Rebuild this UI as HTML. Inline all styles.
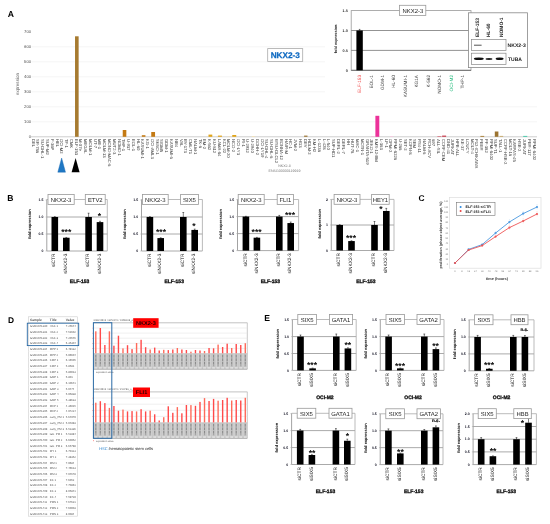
<!DOCTYPE html>
<html><head><meta charset="utf-8"><title>Figure</title>
<style>html,body{margin:0;padding:0;background:#fff;} svg{display:block;} text{font-family:"Liberation Sans", Arial, sans-serif;text-rendering:geometricPrecision;}</style>
</head><body>
<svg width="550" height="524" viewBox="0 0 550 524" font-family='"Liberation Sans", Arial, sans-serif'>
<rect width="550" height="524" fill="#fff"/>
<text x="7.80" y="16.60" font-size="8.6" font-weight="bold" fill="#000">A</text>
<line x1="31.50" y1="121.80" x2="537.00" y2="121.80" stroke="#f2f2f2" stroke-width="0.8"/>
<line x1="31.50" y1="106.80" x2="537.00" y2="106.80" stroke="#f2f2f2" stroke-width="0.8"/>
<line x1="31.50" y1="91.80" x2="325.00" y2="91.80" stroke="#f2f2f2" stroke-width="0.8"/>
<line x1="31.50" y1="76.80" x2="325.00" y2="76.80" stroke="#f2f2f2" stroke-width="0.8"/>
<line x1="31.50" y1="61.80" x2="325.00" y2="61.80" stroke="#f2f2f2" stroke-width="0.8"/>
<line x1="31.50" y1="46.80" x2="325.00" y2="46.80" stroke="#f2f2f2" stroke-width="0.8"/>
<text x="31.20" y="138.30" font-size="4.3" text-anchor="end" fill="#555">0</text>
<text x="31.20" y="123.30" font-size="4.3" text-anchor="end" fill="#555">100</text>
<text x="31.20" y="108.30" font-size="4.3" text-anchor="end" fill="#555">200</text>
<text x="31.20" y="93.30" font-size="4.3" text-anchor="end" fill="#555">300</text>
<text x="31.20" y="78.30" font-size="4.3" text-anchor="end" fill="#555">400</text>
<text x="31.20" y="63.30" font-size="4.3" text-anchor="end" fill="#555">500</text>
<text x="31.20" y="48.30" font-size="4.3" text-anchor="end" fill="#555">600</text>
<text x="31.20" y="33.30" font-size="4.3" text-anchor="end" fill="#555">700</text>
<text x="18.90" y="84.00" font-size="4.6" text-anchor="middle" fill="#555" transform="rotate(-90 18.90 84.00)">expression</text>
<line x1="30.50" y1="136.80" x2="537.00" y2="136.80" stroke="#c8c8c8" stroke-width="0.9"/>
<text x="31.70" y="139.00" font-size="4.2" fill="#444" transform="rotate(90 31.70 139.00)">DEL</text>
<text x="36.47" y="139.00" font-size="4.2" fill="#444" transform="rotate(90 36.47 139.00)">SR-786</text>
<text x="41.24" y="139.00" font-size="4.2" fill="#444" transform="rotate(90 41.24 139.00)">SU-DHL-1</text>
<text x="46.01" y="139.00" font-size="4.2" fill="#444" transform="rotate(90 46.01 139.00)">SUP-M2</text>
<text x="50.78" y="139.00" font-size="4.2" fill="#444" transform="rotate(90 50.78 139.00)">F-36P</text>
<text x="55.55" y="139.00" font-size="4.2" fill="#444" transform="rotate(90 55.55 139.00)">HEL</text>
<text x="60.32" y="139.00" font-size="4.2" fill="#444" transform="rotate(90 60.32 139.00)">OCI-M2</text>
<text x="65.09" y="139.00" font-size="4.2" fill="#444" transform="rotate(90 65.09 139.00)">TF-1</text>
<text x="69.86" y="139.00" font-size="4.2" fill="#444" transform="rotate(90 69.86 139.00)">CMK</text>
<text x="74.63" y="139.00" font-size="4.2" fill="#444" transform="rotate(90 74.63 139.00)">ELF-153</text>
<text x="79.40" y="139.00" font-size="4.2" fill="#444" transform="rotate(90 79.40 139.00)">M-07e</text>
<text x="84.17" y="139.00" font-size="4.2" fill="#444" transform="rotate(90 84.17 139.00)">MEGAL</text>
<text x="88.94" y="139.00" font-size="4.2" fill="#444" transform="rotate(90 88.94 139.00)">MOLM-1</text>
<text x="93.71" y="139.00" font-size="4.2" fill="#444" transform="rotate(90 93.71 139.00)">UT-7</text>
<text x="98.48" y="139.00" font-size="4.2" fill="#444" transform="rotate(90 98.48 139.00)">ME-1</text>
<text x="103.25" y="139.00" font-size="4.2" fill="#444" transform="rotate(90 103.25 139.00)">MOLM-13</text>
<text x="108.02" y="139.00" font-size="4.2" fill="#444" transform="rotate(90 108.02 139.00)">MONO-MAC-6</text>
<text x="112.79" y="139.00" font-size="4.2" fill="#444" transform="rotate(90 112.79 139.00)">MUTZ-3</text>
<text x="117.56" y="139.00" font-size="4.2" fill="#444" transform="rotate(90 117.56 139.00)">NOMO-1</text>
<text x="122.33" y="139.00" font-size="4.2" fill="#444" transform="rotate(90 122.33 139.00)">THP-1</text>
<text x="127.10" y="139.00" font-size="4.2" fill="#444" transform="rotate(90 127.10 139.00)">U-937</text>
<text x="131.87" y="139.00" font-size="4.2" fill="#444" transform="rotate(90 131.87 139.00)">EOL-1</text>
<text x="136.64" y="139.00" font-size="4.2" fill="#444" transform="rotate(90 136.64 139.00)">HL-60</text>
<text x="141.41" y="139.00" font-size="4.2" fill="#444" transform="rotate(90 141.41 139.00)">KASUMI-1</text>
<text x="146.18" y="139.00" font-size="4.2" fill="#444" transform="rotate(90 146.18 139.00)">KG-1</text>
<text x="150.95" y="139.00" font-size="4.2" fill="#444" transform="rotate(90 150.95 139.00)">OCI-AML3</text>
<text x="155.72" y="139.00" font-size="4.2" fill="#444" transform="rotate(90 155.72 139.00)">SKNO-1</text>
<text x="160.49" y="139.00" font-size="4.2" fill="#444" transform="rotate(90 160.49 139.00)">SIGM5</text>
<text x="165.26" y="139.00" font-size="4.2" fill="#444" transform="rotate(90 165.26 139.00)">GDM-1</text>
<text x="170.03" y="139.00" font-size="4.2" fill="#444" transform="rotate(90 170.03 139.00)">KASUMI-6</text>
<text x="174.80" y="139.00" font-size="4.2" fill="#444" transform="rotate(90 174.80 139.00)">NB4</text>
<text x="179.57" y="139.00" font-size="4.2" fill="#444" transform="rotate(90 179.57 139.00)">VAL</text>
<text x="184.34" y="139.00" font-size="4.2" fill="#444" transform="rotate(90 184.34 139.00)">BV-173</text>
<text x="189.11" y="139.00" font-size="4.2" fill="#444" transform="rotate(90 189.11 139.00)">CML-T1</text>
<text x="193.88" y="139.00" font-size="4.2" fill="#444" transform="rotate(90 193.88 139.00)">NALM-1</text>
<text x="198.65" y="139.00" font-size="4.2" fill="#444" transform="rotate(90 198.65 139.00)">TK-6</text>
<text x="203.42" y="139.00" font-size="4.2" fill="#444" transform="rotate(90 203.42 139.00)">EM-2</text>
<text x="208.19" y="139.00" font-size="4.2" fill="#444" transform="rotate(90 208.19 139.00)">K-562</text>
<text x="212.96" y="139.00" font-size="4.2" fill="#444" transform="rotate(90 212.96 139.00)">KU-812</text>
<text x="217.73" y="139.00" font-size="4.2" fill="#444" transform="rotate(90 217.73 139.00)">LAMA-84</text>
<text x="222.50" y="139.00" font-size="4.2" fill="#444" transform="rotate(90 222.50 139.00)">KCL-22</text>
<text x="227.27" y="139.00" font-size="4.2" fill="#444" transform="rotate(90 227.27 139.00)">MOLM-20</text>
<text x="232.04" y="139.00" font-size="4.2" fill="#444" transform="rotate(90 232.04 139.00)">NCO-2</text>
<text x="236.81" y="139.00" font-size="4.2" fill="#444" transform="rotate(90 236.81 139.00)">OCI-LY3</text>
<text x="241.58" y="139.00" font-size="4.2" fill="#444" transform="rotate(90 241.58 139.00)">RI-1</text>
<text x="246.35" y="139.00" font-size="4.2" fill="#444" transform="rotate(90 246.35 139.00)">U-2932</text>
<text x="251.12" y="139.00" font-size="4.2" fill="#444" transform="rotate(90 251.12 139.00)">U-2940</text>
<text x="255.89" y="139.00" font-size="4.2" fill="#444" transform="rotate(90 255.89 139.00)">DOHH-2</text>
<text x="260.66" y="139.00" font-size="4.2" fill="#444" transform="rotate(90 260.66 139.00)">OCI-LY19</text>
<text x="265.43" y="139.00" font-size="4.2" fill="#444" transform="rotate(90 265.43 139.00)">SU-DHL-4</text>
<text x="270.20" y="139.00" font-size="4.2" fill="#444" transform="rotate(90 270.20 139.00)">SU-DHL-6</text>
<text x="274.97" y="139.00" font-size="4.2" fill="#444" transform="rotate(90 274.97 139.00)">WSU-DLCL2</text>
<text x="279.74" y="139.00" font-size="4.2" fill="#444" transform="rotate(90 279.74 139.00)">BONNA-12</text>
<text x="284.51" y="139.00" font-size="4.2" fill="#444" transform="rotate(90 284.51 139.00)">HAIR-M</text>
<text x="289.28" y="139.00" font-size="4.2" fill="#444" transform="rotate(90 289.28 139.00)">HC-1</text>
<text x="294.05" y="139.00" font-size="4.2" fill="#444" transform="rotate(90 294.05 139.00)">JVM-2</text>
<text x="298.82" y="139.00" font-size="4.2" fill="#444" transform="rotate(90 298.82 139.00)">HG3</text>
<text x="303.59" y="139.00" font-size="4.2" fill="#444" transform="rotate(90 303.59 139.00)">DEV</text>
<text x="308.36" y="139.00" font-size="4.2" fill="#444" transform="rotate(90 308.36 139.00)">HDLM-2</text>
<text x="313.13" y="139.00" font-size="4.2" fill="#444" transform="rotate(90 313.13 139.00)">KM-H2</text>
<text x="317.90" y="139.00" font-size="4.2" fill="#444" transform="rotate(90 317.90 139.00)">L-1236</text>
<text x="322.67" y="139.00" font-size="4.2" fill="#444" transform="rotate(90 322.67 139.00)">L-428</text>
<text x="327.44" y="139.00" font-size="4.2" fill="#444" transform="rotate(90 327.44 139.00)">L-540</text>
<text x="332.21" y="139.00" font-size="4.2" fill="#444" transform="rotate(90 332.21 139.00)">SUP-HD1</text>
<text x="336.98" y="139.00" font-size="4.2" fill="#444" transform="rotate(90 336.98 139.00)">DERL-2</text>
<text x="341.75" y="139.00" font-size="4.2" fill="#444" transform="rotate(90 341.75 139.00)">DERL-7</text>
<text x="346.52" y="139.00" font-size="4.2" fill="#444" transform="rotate(90 346.52 139.00)">HH</text>
<text x="351.29" y="139.00" font-size="4.2" fill="#444" transform="rotate(90 351.29 139.00)">HUT-78</text>
<text x="356.06" y="139.00" font-size="4.2" fill="#444" transform="rotate(90 356.06 139.00)">MAC-1</text>
<text x="360.83" y="139.00" font-size="4.2" fill="#444" transform="rotate(90 360.83 139.00)">MOTN-1</text>
<text x="365.60" y="139.00" font-size="4.2" fill="#444" transform="rotate(90 365.60 139.00)">GRANTA-519</text>
<text x="370.37" y="139.00" font-size="4.2" fill="#444" transform="rotate(90 370.37 139.00)">JEKO-1</text>
<text x="375.14" y="139.00" font-size="4.2" fill="#444" transform="rotate(90 375.14 139.00)">KMS-12-BM</text>
<text x="379.91" y="139.00" font-size="4.2" fill="#444" transform="rotate(90 379.91 139.00)">L-363</text>
<text x="384.68" y="139.00" font-size="4.2" fill="#444" transform="rotate(90 384.68 139.00)">LP-1</text>
<text x="389.45" y="139.00" font-size="4.2" fill="#444" transform="rotate(90 389.45 139.00)">OPM-2</text>
<text x="394.22" y="139.00" font-size="4.2" fill="#444" transform="rotate(90 394.22 139.00)">RPMI-8226</text>
<text x="398.99" y="139.00" font-size="4.2" fill="#444" transform="rotate(90 398.99 139.00)">U-266</text>
<text x="403.76" y="139.00" font-size="4.2" fill="#444" transform="rotate(90 403.76 139.00)">SET-2</text>
<text x="408.53" y="139.00" font-size="4.2" fill="#444" transform="rotate(90 408.53 139.00)">KOPN-8</text>
<text x="413.30" y="139.00" font-size="4.2" fill="#444" transform="rotate(90 413.30 139.00)">SEM</text>
<text x="418.07" y="139.00" font-size="4.2" fill="#444" transform="rotate(90 418.07 139.00)">RS4-11</text>
<text x="422.84" y="139.00" font-size="4.2" fill="#444" transform="rotate(90 422.84 139.00)">NALM-6</text>
<text x="427.61" y="139.00" font-size="4.2" fill="#444" transform="rotate(90 427.61 139.00)">RCH-ACV</text>
<text x="432.38" y="139.00" font-size="4.2" fill="#444" transform="rotate(90 432.38 139.00)">697</text>
<text x="437.15" y="139.00" font-size="4.2" fill="#444" transform="rotate(90 437.15 139.00)">ALL-SIL</text>
<text x="441.92" y="139.00" font-size="4.2" fill="#444" transform="rotate(90 441.92 139.00)">CCRF-CEM</text>
<text x="446.69" y="139.00" font-size="4.2" fill="#444" transform="rotate(90 446.69 139.00)">DND-41</text>
<text x="451.46" y="139.00" font-size="4.2" fill="#444" transform="rotate(90 451.46 139.00)">JURKAT</text>
<text x="456.23" y="139.00" font-size="4.2" fill="#444" transform="rotate(90 456.23 139.00)">HPB-ALL</text>
<text x="461.00" y="139.00" font-size="4.2" fill="#444" transform="rotate(90 461.00 139.00)">KE-37</text>
<text x="465.77" y="139.00" font-size="4.2" fill="#444" transform="rotate(90 465.77 139.00)">LOUCY</text>
<text x="470.54" y="139.00" font-size="4.2" fill="#444" transform="rotate(90 470.54 139.00)">MOLT-4</text>
<text x="475.31" y="139.00" font-size="4.2" fill="#444" transform="rotate(90 475.31 139.00)">P12-ICHIKAWA</text>
<text x="480.08" y="139.00" font-size="4.2" fill="#444" transform="rotate(90 480.08 139.00)">PEER</text>
<text x="484.85" y="139.00" font-size="4.2" fill="#444" transform="rotate(90 484.85 139.00)">PF-382</text>
<text x="489.62" y="139.00" font-size="4.2" fill="#444" transform="rotate(90 489.62 139.00)">RPMI-8402</text>
<text x="494.39" y="139.00" font-size="4.2" fill="#444" transform="rotate(90 494.39 139.00)">SUP-T1</text>
<text x="499.16" y="139.00" font-size="4.2" fill="#444" transform="rotate(90 499.16 139.00)">TALL-1</text>
<text x="503.93" y="139.00" font-size="4.2" fill="#444" transform="rotate(90 503.93 139.00)">CCRF-HSB-2</text>
<text x="508.70" y="139.00" font-size="4.2" fill="#444" transform="rotate(90 508.70 139.00)">MOLT-16</text>
<text x="513.47" y="139.00" font-size="4.2" fill="#444" transform="rotate(90 513.47 139.00)">KARPAS-45</text>
<text x="518.24" y="139.00" font-size="4.2" fill="#444" transform="rotate(90 518.24 139.00)">HSB-2</text>
<text x="523.01" y="139.00" font-size="4.2" fill="#444" transform="rotate(90 523.01 139.00)">JURKAT</text>
<text x="527.78" y="139.00" font-size="4.2" fill="#444" transform="rotate(90 527.78 139.00)">PER-117</text>
<text x="532.55" y="139.00" font-size="4.2" fill="#444" transform="rotate(90 532.55 139.00)">RPMI-8402</text>
<rect x="75.03" y="36.30" width="3.60" height="100.50" fill="#a77b30"/>
<rect x="122.73" y="130.00" width="3.60" height="6.80" fill="#c47a14"/>
<rect x="141.81" y="135.20" width="3.60" height="1.60" fill="#c47a14"/>
<rect x="151.25" y="132.00" width="3.80" height="4.80" fill="#c47a14"/>
<rect x="208.49" y="134.60" width="3.80" height="2.20" fill="#e0a418"/>
<rect x="217.93" y="135.60" width="4.00" height="1.20" fill="#e0a418"/>
<rect x="227.77" y="136.20" width="3.40" height="0.60" fill="#f3ddb0"/>
<rect x="232.24" y="135.00" width="4.00" height="1.80" fill="#e0a418"/>
<rect x="251.82" y="136.00" width="3.00" height="0.80" fill="#f5e3b5"/>
<rect x="304.09" y="135.60" width="3.40" height="1.20" fill="#9b7330"/>
<rect x="371.07" y="136.00" width="3.00" height="0.80" fill="#f7b8d8"/>
<rect x="375.39" y="115.80" width="3.90" height="21.00" fill="#ec329a"/>
<rect x="390.15" y="136.00" width="3.00" height="0.80" fill="#f7c8e0"/>
<rect x="437.35" y="136.00" width="4.00" height="0.80" fill="#d87582"/>
<rect x="442.12" y="135.60" width="4.00" height="1.20" fill="#c8384a"/>
<rect x="480.38" y="135.90" width="3.80" height="0.90" fill="#a87c30"/>
<rect x="494.79" y="131.50" width="3.60" height="5.30" fill="#9b7330"/>
<rect x="499.56" y="135.90" width="3.60" height="0.90" fill="#c8a868"/>
<rect x="523.16" y="135.90" width="4.10" height="0.90" fill="#40c8a8"/>
<polygon points="57.8,172.2 65.5,172.2 61.65,158" fill="#1f78c4" stroke="#1565b0" stroke-width="0.4"/>
<polygon points="71.6,172.2 79.6,172.2 75.6,158" fill="#000"/>
<rect x="267.70" y="48.60" width="35.00" height="12.80" fill="#fff" stroke="#aaa" stroke-width="0.8"/>
<text x="285.20" y="58.00" font-size="8.2" text-anchor="middle" font-weight="bold" fill="#0f6ac2" stroke="#0f6ac2" stroke-width="0.25">NKX2-3</text>
<text x="284.50" y="167.30" font-size="3.6" text-anchor="middle" fill="#777">NKX2-3</text>
<text x="284.50" y="172.30" font-size="3.6" text-anchor="middle" fill="#777">ENSG00000119919</text>
<rect x="351.20" y="10.60" width="119.80" height="59.70" fill="#fff" stroke="#999" stroke-width="0.8"/>
<line x1="351.20" y1="30.50" x2="471.00" y2="30.50" stroke="#777" stroke-width="0.8"/>
<line x1="351.20" y1="50.40" x2="471.00" y2="50.40" stroke="#777" stroke-width="0.8"/>
<line x1="351.20" y1="70.30" x2="471.00" y2="70.30" stroke="#666" stroke-width="0.9"/>
<text x="347.80" y="11.90" font-size="3.8" text-anchor="end" font-weight="bold" fill="#333">1.5</text>
<text x="347.80" y="31.80" font-size="3.8" text-anchor="end" font-weight="bold" fill="#333">1.0</text>
<text x="347.80" y="51.70" font-size="3.8" text-anchor="end" font-weight="bold" fill="#333">0.5</text>
<text x="347.80" y="71.60" font-size="3.8" text-anchor="end" font-weight="bold" fill="#333">0</text>
<text x="336.80" y="38.90" font-size="3.9" text-anchor="middle" font-weight="bold" fill="#222" transform="rotate(-90 336.80 38.90)">fold expression</text>
<rect x="356.40" y="30.50" width="6.40" height="39.80" fill="#000"/>
<line x1="359.60" y1="30.50" x2="359.60" y2="29.40" stroke="#000" stroke-width="0.5"/>
<line x1="358.80" y1="29.40" x2="360.40" y2="29.40" stroke="#000" stroke-width="0.5"/>
<rect x="399.40" y="5.30" width="26.40" height="10.10" fill="#fff" stroke="#999" stroke-width="0.8"/>
<text x="412.90" y="12.70" font-size="5.9" text-anchor="middle" fill="#1a1a1a">NKX2-3</text>
<text x="361.30" y="75.00" font-size="4.7" text-anchor="end" fill="#ee3333" transform="rotate(-90 361.30 75.00)">ELF-153</text>
<text x="372.70" y="75.00" font-size="4.7" text-anchor="end" fill="#333" transform="rotate(-90 372.70 75.00)">EOL-1</text>
<text x="383.80" y="75.00" font-size="4.7" text-anchor="end" fill="#333" transform="rotate(-90 383.80 75.00)">GDM-1</text>
<text x="394.60" y="75.00" font-size="4.7" text-anchor="end" fill="#333" transform="rotate(-90 394.60 75.00)">HL-60</text>
<text x="406.70" y="75.00" font-size="4.7" text-anchor="end" fill="#333" transform="rotate(-90 406.70 75.00)">KASUMI-1</text>
<text x="418.30" y="75.00" font-size="4.7" text-anchor="end" fill="#333" transform="rotate(-90 418.30 75.00)">KG1A</text>
<text x="429.50" y="75.00" font-size="4.7" text-anchor="end" fill="#333" transform="rotate(-90 429.50 75.00)">K-562</text>
<text x="440.90" y="75.00" font-size="4.7" text-anchor="end" fill="#333" transform="rotate(-90 440.90 75.00)">NOMO-1</text>
<text x="452.60" y="75.00" font-size="4.7" text-anchor="end" fill="#1fb87a" transform="rotate(-90 452.60 75.00)">OCI-M2</text>
<text x="464.30" y="75.00" font-size="4.7" text-anchor="end" fill="#333" transform="rotate(-90 464.30 75.00)">THP-1</text>
<rect x="468.40" y="12.80" width="59.00" height="54.80" fill="#fff" stroke="#888" stroke-width="0.8"/>
<text x="478.60" y="37.00" font-size="4.9" font-weight="bold" fill="#222" transform="rotate(-90 478.60 37.00)">ELF-153</text>
<text x="490.20" y="37.00" font-size="4.9" font-weight="bold" fill="#222" transform="rotate(-90 490.20 37.00)">HL-60</text>
<text x="502.60" y="37.00" font-size="4.9" font-weight="bold" fill="#222" transform="rotate(-90 502.60 37.00)">NOMO-1</text>
<rect x="471.40" y="39.60" width="34.60" height="10.80" fill="#fff" stroke="#888" stroke-width="0.7"/>
<rect x="471.40" y="53.20" width="34.60" height="11.20" fill="#fff" stroke="#888" stroke-width="0.7"/>
<rect x="474.00" y="44.70" width="7.60" height="1.00" fill="#555"/>
<ellipse cx="478.8" cy="58.8" rx="5.0" ry="1.3" fill="#111"/>
<ellipse cx="489.0" cy="59.0" rx="3.4" ry="0.9" fill="#222"/>
<ellipse cx="499.6" cy="58.8" rx="4.0" ry="1.2" fill="#111"/>
<text x="507.60" y="46.80" font-size="5.1" font-weight="bold" fill="#222">NKX2-3</text>
<text x="508.00" y="60.80" font-size="5.0" font-weight="bold" fill="#222">TUBA</text>
<text x="7.30" y="200.80" font-size="8.6" font-weight="bold" fill="#000">B</text>
<line x1="46.80" y1="199.50" x2="107.30" y2="199.50" stroke="#aaa" stroke-width="0.8"/>
<line x1="107.30" y1="199.50" x2="107.30" y2="251.00" stroke="#aaa" stroke-width="0.8"/>
<line x1="46.80" y1="217.00" x2="107.30" y2="217.00" stroke="#aaa" stroke-width="1.0"/>
<line x1="46.80" y1="234.00" x2="107.30" y2="234.00" stroke="#aaa" stroke-width="1.0"/>
<line x1="46.80" y1="251.00" x2="107.30" y2="251.00" stroke="#aaa" stroke-width="1.0"/>
<line x1="46.80" y1="199.50" x2="46.80" y2="251.00" stroke="#999" stroke-width="0.9"/>
<text x="43.40" y="201.25" font-size="3.5" text-anchor="end" font-weight="bold" fill="#112">1.5</text>
<line x1="45.60" y1="200.00" x2="46.80" y2="200.00" stroke="#aaa" stroke-width="0.6"/>
<text x="43.40" y="218.25" font-size="3.5" text-anchor="end" font-weight="bold" fill="#112">1.0</text>
<line x1="45.60" y1="217.00" x2="46.80" y2="217.00" stroke="#aaa" stroke-width="0.6"/>
<text x="43.40" y="235.25" font-size="3.5" text-anchor="end" font-weight="bold" fill="#112">0.5</text>
<line x1="45.60" y1="234.00" x2="46.80" y2="234.00" stroke="#aaa" stroke-width="0.6"/>
<text x="43.40" y="252.25" font-size="3.5" text-anchor="end" font-weight="bold" fill="#112">0</text>
<line x1="45.60" y1="251.00" x2="46.80" y2="251.00" stroke="#aaa" stroke-width="0.6"/>
<text x="31.10" y="224.05" font-size="4.0" text-anchor="middle" font-weight="bold" fill="#000" transform="rotate(-90 31.10 224.05)">fold expression</text>
<rect x="51.50" y="217.00" width="6.60" height="34.00" fill="#000"/>
<line x1="54.80" y1="217.00" x2="54.80" y2="216.70" stroke="#000" stroke-width="0.5"/>
<line x1="53.90" y1="216.70" x2="55.70" y2="216.70" stroke="#000" stroke-width="0.5"/>
<rect x="63.00" y="237.74" width="6.60" height="13.26" fill="#000"/>
<line x1="66.30" y1="237.74" x2="66.30" y2="237.44" stroke="#000" stroke-width="0.5"/>
<line x1="65.40" y1="237.44" x2="67.20" y2="237.44" stroke="#000" stroke-width="0.5"/>
<rect x="85.30" y="217.00" width="6.60" height="34.00" fill="#000"/>
<line x1="88.60" y1="217.00" x2="88.60" y2="213.20" stroke="#000" stroke-width="0.5"/>
<line x1="87.70" y1="213.20" x2="89.50" y2="213.20" stroke="#000" stroke-width="0.5"/>
<rect x="96.70" y="222.10" width="6.60" height="28.90" fill="#000"/>
<line x1="100.00" y1="222.10" x2="100.00" y2="221.30" stroke="#000" stroke-width="0.5"/>
<line x1="99.10" y1="221.30" x2="100.90" y2="221.30" stroke="#000" stroke-width="0.5"/>
<rect x="48.00" y="194.50" width="26.20" height="9.90" fill="#fff" stroke="#999" stroke-width="0.8"/>
<text x="61.10" y="201.70" font-size="5.9" text-anchor="middle" fill="#222">NKX2-3</text>
<rect x="85.30" y="194.50" width="19.90" height="9.90" fill="#fff" stroke="#999" stroke-width="0.8"/>
<text x="95.25" y="201.70" font-size="5.9" text-anchor="middle" fill="#222">ETV2</text>
<text x="66.30" y="235.40" font-size="8.6" text-anchor="middle" font-weight="bold" fill="#111">***</text>
<text x="99.40" y="218.70" font-size="8.6" text-anchor="middle" font-weight="bold" fill="#111">*</text>
<text x="55.50" y="253.60" font-size="4.8" text-anchor="end" fill="#111" transform="rotate(-90 55.50 253.60)">siCTR</text>
<text x="67.00" y="253.60" font-size="4.8" text-anchor="end" fill="#111" transform="rotate(-90 67.00 253.60)">siNKX2-3</text>
<text x="89.30" y="253.60" font-size="4.8" text-anchor="end" fill="#111" transform="rotate(-90 89.30 253.60)">siCTR</text>
<text x="100.70" y="253.60" font-size="4.8" text-anchor="end" fill="#111" transform="rotate(-90 100.70 253.60)">siNKX2-3</text>
<text x="79.60" y="282.70" font-size="5.0" text-anchor="middle" font-weight="bold" fill="#111" stroke="#111" stroke-width="0.3">ELF-153</text>
<line x1="141.50" y1="199.50" x2="202.40" y2="199.50" stroke="#aaa" stroke-width="0.8"/>
<line x1="202.40" y1="199.50" x2="202.40" y2="251.00" stroke="#aaa" stroke-width="0.8"/>
<line x1="141.50" y1="217.00" x2="202.40" y2="217.00" stroke="#aaa" stroke-width="1.0"/>
<line x1="141.50" y1="234.00" x2="202.40" y2="234.00" stroke="#aaa" stroke-width="1.0"/>
<line x1="141.50" y1="251.00" x2="202.40" y2="251.00" stroke="#aaa" stroke-width="1.0"/>
<line x1="141.50" y1="199.50" x2="141.50" y2="251.00" stroke="#999" stroke-width="0.9"/>
<text x="138.10" y="201.25" font-size="3.5" text-anchor="end" font-weight="bold" fill="#112">1.5</text>
<line x1="140.30" y1="200.00" x2="141.50" y2="200.00" stroke="#aaa" stroke-width="0.6"/>
<text x="138.10" y="218.25" font-size="3.5" text-anchor="end" font-weight="bold" fill="#112">1.0</text>
<line x1="140.30" y1="217.00" x2="141.50" y2="217.00" stroke="#aaa" stroke-width="0.6"/>
<text x="138.10" y="235.25" font-size="3.5" text-anchor="end" font-weight="bold" fill="#112">0.5</text>
<line x1="140.30" y1="234.00" x2="141.50" y2="234.00" stroke="#aaa" stroke-width="0.6"/>
<text x="138.10" y="252.25" font-size="3.5" text-anchor="end" font-weight="bold" fill="#112">0</text>
<line x1="140.30" y1="251.00" x2="141.50" y2="251.00" stroke="#aaa" stroke-width="0.6"/>
<text x="125.80" y="224.05" font-size="4.0" text-anchor="middle" font-weight="bold" fill="#000" transform="rotate(-90 125.80 224.05)">fold expression</text>
<rect x="146.60" y="217.00" width="6.60" height="34.00" fill="#000"/>
<line x1="149.90" y1="217.00" x2="149.90" y2="216.70" stroke="#000" stroke-width="0.5"/>
<line x1="149.00" y1="216.70" x2="150.80" y2="216.70" stroke="#000" stroke-width="0.5"/>
<rect x="157.40" y="238.08" width="6.60" height="12.92" fill="#000"/>
<line x1="160.70" y1="238.08" x2="160.70" y2="237.78" stroke="#000" stroke-width="0.5"/>
<line x1="159.80" y1="237.78" x2="161.60" y2="237.78" stroke="#000" stroke-width="0.5"/>
<rect x="180.00" y="217.00" width="6.60" height="34.00" fill="#000"/>
<line x1="183.30" y1="217.00" x2="183.30" y2="212.50" stroke="#000" stroke-width="0.5"/>
<line x1="182.40" y1="212.50" x2="184.20" y2="212.50" stroke="#000" stroke-width="0.5"/>
<rect x="191.40" y="229.92" width="6.60" height="21.08" fill="#000"/>
<line x1="194.70" y1="229.92" x2="194.70" y2="229.12" stroke="#000" stroke-width="0.5"/>
<line x1="193.80" y1="229.12" x2="195.60" y2="229.12" stroke="#000" stroke-width="0.5"/>
<rect x="142.40" y="194.50" width="25.80" height="9.90" fill="#fff" stroke="#999" stroke-width="0.8"/>
<text x="155.30" y="201.70" font-size="5.9" text-anchor="middle" fill="#222">NKX2-3</text>
<rect x="180.60" y="194.50" width="17.80" height="9.90" fill="#fff" stroke="#999" stroke-width="0.8"/>
<text x="189.50" y="201.70" font-size="5.9" text-anchor="middle" fill="#222">SIX5</text>
<text x="161.00" y="234.90" font-size="8.6" text-anchor="middle" font-weight="bold" fill="#111">***</text>
<text x="194.00" y="229.30" font-size="8.6" text-anchor="middle" font-weight="bold" fill="#111">*</text>
<text x="150.60" y="253.60" font-size="4.8" text-anchor="end" fill="#111" transform="rotate(-90 150.60 253.60)">siCTR</text>
<text x="161.40" y="253.60" font-size="4.8" text-anchor="end" fill="#111" transform="rotate(-90 161.40 253.60)">siNKX2-3</text>
<text x="184.00" y="253.60" font-size="4.8" text-anchor="end" fill="#111" transform="rotate(-90 184.00 253.60)">siCTR</text>
<text x="195.40" y="253.60" font-size="4.8" text-anchor="end" fill="#111" transform="rotate(-90 195.40 253.60)">siNKX2-3</text>
<text x="174.20" y="282.70" font-size="5.0" text-anchor="middle" font-weight="bold" fill="#111" stroke="#111" stroke-width="0.3">ELF-153</text>
<line x1="237.50" y1="199.50" x2="298.60" y2="199.50" stroke="#aaa" stroke-width="0.8"/>
<line x1="298.60" y1="199.50" x2="298.60" y2="250.60" stroke="#aaa" stroke-width="0.8"/>
<line x1="237.50" y1="216.60" x2="298.60" y2="216.60" stroke="#aaa" stroke-width="1.0"/>
<line x1="237.50" y1="233.60" x2="298.60" y2="233.60" stroke="#aaa" stroke-width="1.0"/>
<line x1="237.50" y1="250.60" x2="298.60" y2="250.60" stroke="#aaa" stroke-width="1.0"/>
<line x1="237.50" y1="199.50" x2="237.50" y2="250.60" stroke="#999" stroke-width="0.9"/>
<text x="234.10" y="200.85" font-size="3.5" text-anchor="end" font-weight="bold" fill="#112">1.5</text>
<line x1="236.30" y1="199.60" x2="237.50" y2="199.60" stroke="#aaa" stroke-width="0.6"/>
<text x="234.10" y="217.85" font-size="3.5" text-anchor="end" font-weight="bold" fill="#112">1.0</text>
<line x1="236.30" y1="216.60" x2="237.50" y2="216.60" stroke="#aaa" stroke-width="0.6"/>
<text x="234.10" y="234.85" font-size="3.5" text-anchor="end" font-weight="bold" fill="#112">0.5</text>
<line x1="236.30" y1="233.60" x2="237.50" y2="233.60" stroke="#aaa" stroke-width="0.6"/>
<text x="234.10" y="251.85" font-size="3.5" text-anchor="end" font-weight="bold" fill="#112">0</text>
<line x1="236.30" y1="250.60" x2="237.50" y2="250.60" stroke="#aaa" stroke-width="0.6"/>
<text x="221.80" y="223.85" font-size="4.0" text-anchor="middle" font-weight="bold" fill="#000" transform="rotate(-90 221.80 223.85)">fold expression</text>
<rect x="242.60" y="216.60" width="6.60" height="34.00" fill="#000"/>
<line x1="245.90" y1="216.60" x2="245.90" y2="216.30" stroke="#000" stroke-width="0.5"/>
<line x1="245.00" y1="216.30" x2="246.80" y2="216.30" stroke="#000" stroke-width="0.5"/>
<rect x="253.60" y="237.68" width="6.60" height="12.92" fill="#000"/>
<line x1="256.90" y1="237.68" x2="256.90" y2="237.38" stroke="#000" stroke-width="0.5"/>
<line x1="256.00" y1="237.38" x2="257.80" y2="237.38" stroke="#000" stroke-width="0.5"/>
<rect x="276.00" y="216.60" width="6.60" height="34.00" fill="#000"/>
<line x1="279.30" y1="216.60" x2="279.30" y2="215.40" stroke="#000" stroke-width="0.5"/>
<line x1="278.40" y1="215.40" x2="280.20" y2="215.40" stroke="#000" stroke-width="0.5"/>
<rect x="287.40" y="223.06" width="6.60" height="27.54" fill="#000"/>
<line x1="290.70" y1="223.06" x2="290.70" y2="222.06" stroke="#000" stroke-width="0.5"/>
<line x1="289.80" y1="222.06" x2="291.60" y2="222.06" stroke="#000" stroke-width="0.5"/>
<rect x="238.20" y="194.50" width="26.00" height="9.90" fill="#fff" stroke="#999" stroke-width="0.8"/>
<text x="251.20" y="201.70" font-size="5.9" text-anchor="middle" fill="#222">NKX2-3</text>
<rect x="277.20" y="194.50" width="16.20" height="9.90" fill="#fff" stroke="#999" stroke-width="0.8"/>
<text x="285.30" y="201.70" font-size="5.9" text-anchor="middle" fill="#222">FLI1</text>
<text x="256.60" y="234.90" font-size="8.6" text-anchor="middle" font-weight="bold" fill="#111">***</text>
<text x="290.00" y="217.90" font-size="8.6" text-anchor="middle" font-weight="bold" fill="#111">***</text>
<text x="246.60" y="253.20" font-size="4.8" text-anchor="end" fill="#111" transform="rotate(-90 246.60 253.20)">siCTR</text>
<text x="257.60" y="253.20" font-size="4.8" text-anchor="end" fill="#111" transform="rotate(-90 257.60 253.20)">siNKX2-3</text>
<text x="280.00" y="253.20" font-size="4.8" text-anchor="end" fill="#111" transform="rotate(-90 280.00 253.20)">siCTR</text>
<text x="291.40" y="253.20" font-size="4.8" text-anchor="end" fill="#111" transform="rotate(-90 291.40 253.20)">siNKX2-3</text>
<text x="270.40" y="282.70" font-size="5.0" text-anchor="middle" font-weight="bold" fill="#111" stroke="#111" stroke-width="0.3">ELF-153</text>
<line x1="331.30" y1="199.40" x2="394.00" y2="199.40" stroke="#aaa" stroke-width="0.8"/>
<line x1="394.00" y1="199.40" x2="394.00" y2="250.50" stroke="#aaa" stroke-width="0.8"/>
<line x1="331.30" y1="225.00" x2="394.00" y2="225.00" stroke="#aaa" stroke-width="1.0"/>
<line x1="331.30" y1="250.50" x2="394.00" y2="250.50" stroke="#aaa" stroke-width="1.0"/>
<line x1="331.30" y1="199.40" x2="331.30" y2="250.50" stroke="#999" stroke-width="0.9"/>
<text x="327.90" y="200.75" font-size="3.5" text-anchor="end" font-weight="bold" fill="#112">2</text>
<line x1="330.10" y1="199.50" x2="331.30" y2="199.50" stroke="#aaa" stroke-width="0.6"/>
<text x="327.90" y="226.25" font-size="3.5" text-anchor="end" font-weight="bold" fill="#112">1</text>
<line x1="330.10" y1="225.00" x2="331.30" y2="225.00" stroke="#aaa" stroke-width="0.6"/>
<text x="327.90" y="251.75" font-size="3.5" text-anchor="end" font-weight="bold" fill="#112">0</text>
<line x1="330.10" y1="250.50" x2="331.30" y2="250.50" stroke="#aaa" stroke-width="0.6"/>
<text x="321.10" y="223.75" font-size="4.0" text-anchor="middle" font-weight="bold" fill="#000" transform="rotate(-90 321.10 223.75)">fold expression</text>
<rect x="336.40" y="225.00" width="6.60" height="25.50" fill="#000"/>
<line x1="339.70" y1="225.00" x2="339.70" y2="224.70" stroke="#000" stroke-width="0.5"/>
<line x1="338.80" y1="224.70" x2="340.60" y2="224.70" stroke="#000" stroke-width="0.5"/>
<rect x="348.20" y="241.06" width="6.60" height="9.44" fill="#000"/>
<line x1="351.50" y1="241.06" x2="351.50" y2="240.76" stroke="#000" stroke-width="0.5"/>
<line x1="350.60" y1="240.76" x2="352.40" y2="240.76" stroke="#000" stroke-width="0.5"/>
<rect x="371.20" y="225.00" width="6.60" height="25.50" fill="#000"/>
<line x1="374.50" y1="225.00" x2="374.50" y2="221.50" stroke="#000" stroke-width="0.5"/>
<line x1="373.60" y1="221.50" x2="375.40" y2="221.50" stroke="#000" stroke-width="0.5"/>
<rect x="383.00" y="210.97" width="6.60" height="39.53" fill="#000"/>
<line x1="386.30" y1="210.97" x2="386.30" y2="208.38" stroke="#000" stroke-width="0.5"/>
<line x1="385.40" y1="208.38" x2="387.20" y2="208.38" stroke="#000" stroke-width="0.5"/>
<rect x="334.10" y="194.40" width="25.90" height="9.90" fill="#fff" stroke="#999" stroke-width="0.8"/>
<text x="347.05" y="201.60" font-size="5.9" text-anchor="middle" fill="#222">NKX2-3</text>
<rect x="371.60" y="194.40" width="17.60" height="9.90" fill="#fff" stroke="#999" stroke-width="0.8"/>
<text x="380.40" y="201.60" font-size="5.9" text-anchor="middle" fill="#222">HEY1</text>
<text x="351.00" y="240.90" font-size="8.6" text-anchor="middle" font-weight="bold" fill="#111">***</text>
<text x="381.00" y="211.90" font-size="8.6" text-anchor="middle" font-weight="bold" fill="#111">*</text>
<text x="340.40" y="253.10" font-size="4.8" text-anchor="end" fill="#111" transform="rotate(-90 340.40 253.10)">siCTR</text>
<text x="352.20" y="253.10" font-size="4.8" text-anchor="end" fill="#111" transform="rotate(-90 352.20 253.10)">siNKX2-3</text>
<text x="375.20" y="253.10" font-size="4.8" text-anchor="end" fill="#111" transform="rotate(-90 375.20 253.10)">siCTR</text>
<text x="387.00" y="253.10" font-size="4.8" text-anchor="end" fill="#111" transform="rotate(-90 387.00 253.10)">siNKX2-3</text>
<text x="365.90" y="282.70" font-size="5.0" text-anchor="middle" font-weight="bold" fill="#111" stroke="#111" stroke-width="0.3">ELF-153</text>
<text x="418.50" y="201.40" font-size="8.4" font-weight="bold" fill="#000">C</text>
<rect x="449.40" y="197.60" width="91.60" height="70.60" fill="#fff" stroke="#ddd" stroke-width="0.7"/>
<text x="448.20" y="202.30" font-size="2.5" text-anchor="end" fill="#888">120</text>
<text x="448.20" y="207.55" font-size="2.5" text-anchor="end" fill="#888">110</text>
<text x="448.20" y="212.80" font-size="2.5" text-anchor="end" fill="#888">100</text>
<text x="448.20" y="218.05" font-size="2.5" text-anchor="end" fill="#888">90</text>
<text x="448.20" y="223.30" font-size="2.5" text-anchor="end" fill="#888">80</text>
<text x="448.20" y="228.55" font-size="2.5" text-anchor="end" fill="#888">70</text>
<text x="448.20" y="233.80" font-size="2.5" text-anchor="end" fill="#888">60</text>
<text x="448.20" y="239.05" font-size="2.5" text-anchor="end" fill="#888">50</text>
<text x="448.20" y="244.30" font-size="2.5" text-anchor="end" fill="#888">40</text>
<text x="448.20" y="249.55" font-size="2.5" text-anchor="end" fill="#888">30</text>
<text x="448.20" y="254.80" font-size="2.5" text-anchor="end" fill="#888">20</text>
<text x="448.20" y="260.05" font-size="2.5" text-anchor="end" fill="#888">10</text>
<text x="448.20" y="265.30" font-size="2.5" text-anchor="end" fill="#888">0</text>
<text x="455.00" y="272.40" font-size="2.5" text-anchor="middle" fill="#888">0</text>
<text x="461.83" y="272.40" font-size="2.5" text-anchor="middle" fill="#888">8</text>
<text x="468.66" y="272.40" font-size="2.5" text-anchor="middle" fill="#888">16</text>
<text x="475.49" y="272.40" font-size="2.5" text-anchor="middle" fill="#888">24</text>
<text x="482.32" y="272.40" font-size="2.5" text-anchor="middle" fill="#888">32</text>
<text x="489.15" y="272.40" font-size="2.5" text-anchor="middle" fill="#888">40</text>
<text x="495.98" y="272.40" font-size="2.5" text-anchor="middle" fill="#888">48</text>
<text x="502.81" y="272.40" font-size="2.5" text-anchor="middle" fill="#888">56</text>
<text x="509.64" y="272.40" font-size="2.5" text-anchor="middle" fill="#888">64</text>
<text x="516.47" y="272.40" font-size="2.5" text-anchor="middle" fill="#888">72</text>
<text x="523.30" y="272.40" font-size="2.5" text-anchor="middle" fill="#888">80</text>
<text x="530.13" y="272.40" font-size="2.5" text-anchor="middle" fill="#888">88</text>
<text x="536.96" y="272.40" font-size="2.5" text-anchor="middle" fill="#888">96</text>
<text x="442.40" y="235.00" font-size="3.65" text-anchor="middle" font-weight="bold" fill="#333" transform="rotate(-90 442.40 235.00)">proliferation (phase object average, %)</text>
<text x="497.00" y="279.60" font-size="3.8" text-anchor="middle" font-weight="bold" fill="#333">time (hours)</text>
<polyline points="455.0,263.0 468.6,249.4 482.2,244.6 495.6,233.0 509.4,222.0 523.2,213.6 537.0,207.0" fill="none" stroke="#4a98e0" stroke-width="0.9"/>
<circle cx="455" cy="263" r="1.1" fill="#4a98e0"/>
<circle cx="468.6" cy="249.4" r="1.1" fill="#4a98e0"/>
<circle cx="482.2" cy="244.6" r="1.1" fill="#4a98e0"/>
<circle cx="495.6" cy="233" r="1.1" fill="#4a98e0"/>
<circle cx="509.4" cy="222" r="1.1" fill="#4a98e0"/>
<circle cx="523.2" cy="213.6" r="1.1" fill="#4a98e0"/>
<circle cx="537" cy="207" r="1.1" fill="#4a98e0"/>
<polyline points="455.0,263.0 468.6,250.0 482.2,245.6 495.6,236.6 509.4,227.6 523.2,221.0 537.0,214.0" fill="none" stroke="#ee5555" stroke-width="0.9"/>
<circle cx="455" cy="263" r="1.1" fill="#ee5555"/>
<circle cx="468.6" cy="250" r="1.1" fill="#ee5555"/>
<circle cx="482.2" cy="245.6" r="1.1" fill="#ee5555"/>
<circle cx="495.6" cy="236.6" r="1.1" fill="#ee5555"/>
<circle cx="509.4" cy="227.6" r="1.1" fill="#ee5555"/>
<circle cx="523.2" cy="221" r="1.1" fill="#ee5555"/>
<circle cx="537" cy="214" r="1.1" fill="#ee5555"/>
<line x1="495.60" y1="231.50" x2="495.60" y2="234.50" stroke="#8ab8e8" stroke-width="0.5" stroke-dasharray="0.6 0.6"/>
<line x1="509.40" y1="219.50" x2="509.40" y2="224.50" stroke="#8ab8e8" stroke-width="0.5" stroke-dasharray="0.6 0.6"/>
<line x1="523.20" y1="211.10" x2="523.20" y2="216.10" stroke="#8ab8e8" stroke-width="0.5" stroke-dasharray="0.6 0.6"/>
<line x1="537.00" y1="204.50" x2="537.00" y2="209.50" stroke="#8ab8e8" stroke-width="0.5" stroke-dasharray="0.6 0.6"/>
<line x1="509.40" y1="225.60" x2="509.40" y2="229.60" stroke="#f09090" stroke-width="0.5" stroke-dasharray="0.6 0.6"/>
<line x1="523.20" y1="218.50" x2="523.20" y2="223.50" stroke="#f09090" stroke-width="0.5" stroke-dasharray="0.6 0.6"/>
<line x1="537.00" y1="211.50" x2="537.00" y2="216.50" stroke="#f09090" stroke-width="0.5" stroke-dasharray="0.6 0.6"/>
<rect x="456.60" y="202.40" width="38.40" height="13.20" fill="#fff" stroke="#777" stroke-width="0.6"/>
<circle cx="460.6" cy="207" r="1.0" fill="#2a88e0"/>
<circle cx="460.6" cy="211" r="1.0" fill="#e84040"/>
<text x="465.60" y="208.30" font-size="3.6" font-weight="bold" fill="#222">ELF-153 siCTR</text>
<text x="465.60" y="212.50" font-size="3.6" font-weight="bold" fill="#222">ELF-153 siFLI1</text>
<text x="7.90" y="323.40" font-size="8.4" font-weight="bold" fill="#000">D</text>
<rect x="28.30" y="316.80" width="49.00" height="199.40" fill="#fff" stroke="#ccc" stroke-width="0.6"/>
<text x="30.00" y="321.00" font-size="3.3" font-weight="bold" fill="#555">Sample</text>
<text x="49.80" y="321.00" font-size="3.3" font-weight="bold" fill="#555">Title</text>
<text x="65.80" y="321.00" font-size="3.3" font-weight="bold" fill="#555">Value</text>
<line x1="28.30" y1="322.60" x2="77.30" y2="322.60" stroke="#bbb" stroke-width="0.5"/>
<text x="30.00" y="327.40" font-size="2.8" fill="#555">GSM1041380</text>
<text x="49.80" y="327.40" font-size="2.8" fill="#555">HSC 1</text>
<text x="65.80" y="327.40" font-size="2.8" fill="#555">7.25644</text>
<line x1="28.30" y1="328.84" x2="77.30" y2="328.84" stroke="#f2f2f2" stroke-width="0.4"/>
<text x="30.00" y="333.07" font-size="2.8" fill="#555">GSM1041381</text>
<text x="49.80" y="333.07" font-size="2.8" fill="#555">HSC 2</text>
<text x="65.80" y="333.07" font-size="2.8" fill="#555">7.51602</text>
<line x1="28.30" y1="334.51" x2="77.30" y2="334.51" stroke="#f2f2f2" stroke-width="0.4"/>
<text x="30.00" y="338.75" font-size="2.8" fill="#555">GSM1041382</text>
<text x="49.80" y="338.75" font-size="2.8" fill="#555">HSC 3</text>
<text x="65.80" y="338.75" font-size="2.8" fill="#555">7.20546</text>
<line x1="28.30" y1="340.18" x2="77.30" y2="340.18" stroke="#f2f2f2" stroke-width="0.4"/>
<text x="30.00" y="344.42" font-size="2.8" fill="#555">GSM1041383</text>
<text x="49.80" y="344.42" font-size="2.8" fill="#555">HSC 4</text>
<text x="65.80" y="344.42" font-size="2.8" fill="#555">6.35304</text>
<line x1="28.30" y1="345.85" x2="77.30" y2="345.85" stroke="#f2f2f2" stroke-width="0.4"/>
<text x="30.00" y="350.09" font-size="2.8" fill="#555">GSM1041384</text>
<text x="49.80" y="350.09" font-size="2.8" fill="#555">MPP 1</text>
<text x="65.80" y="350.09" font-size="2.8" fill="#555">6.49132</text>
<line x1="28.30" y1="351.53" x2="77.30" y2="351.53" stroke="#f2f2f2" stroke-width="0.4"/>
<text x="30.00" y="355.76" font-size="2.8" fill="#555">GSM1041385</text>
<text x="49.80" y="355.76" font-size="2.8" fill="#555">MPP 2</text>
<text x="65.80" y="355.76" font-size="2.8" fill="#555">5.96604</text>
<line x1="28.30" y1="357.20" x2="77.30" y2="357.20" stroke="#f2f2f2" stroke-width="0.4"/>
<text x="30.00" y="361.44" font-size="2.8" fill="#555">GSM1041386</text>
<text x="49.80" y="361.44" font-size="2.8" fill="#555">CMP 1</text>
<text x="65.80" y="361.44" font-size="2.8" fill="#555">6.16505</text>
<line x1="28.30" y1="362.87" x2="77.30" y2="362.87" stroke="#f2f2f2" stroke-width="0.4"/>
<text x="30.00" y="367.11" font-size="2.8" fill="#555">GSM1041387</text>
<text x="49.80" y="367.11" font-size="2.8" fill="#555">CMP 2</text>
<text x="65.80" y="367.11" font-size="2.8" fill="#555">5.8581</text>
<line x1="28.30" y1="368.55" x2="77.30" y2="368.55" stroke="#f2f2f2" stroke-width="0.4"/>
<text x="30.00" y="372.78" font-size="2.8" fill="#555">GSM1041388</text>
<text x="49.80" y="372.78" font-size="2.8" fill="#555">CMP 3</text>
<text x="65.80" y="372.78" font-size="2.8" fill="#555">5.80013</text>
<line x1="28.30" y1="374.22" x2="77.30" y2="374.22" stroke="#f2f2f2" stroke-width="0.4"/>
<text x="30.00" y="378.45" font-size="2.8" fill="#555">GSM1041389</text>
<text x="49.80" y="378.45" font-size="2.8" fill="#555">GMP 1</text>
<text x="65.80" y="378.45" font-size="2.8" fill="#555">5.801</text>
<line x1="28.30" y1="379.89" x2="77.30" y2="379.89" stroke="#f2f2f2" stroke-width="0.4"/>
<text x="30.00" y="384.13" font-size="2.8" fill="#555">GSM1041390</text>
<text x="49.80" y="384.13" font-size="2.8" fill="#555">GMP 2</text>
<text x="65.80" y="384.13" font-size="2.8" fill="#555">6.10641</text>
<line x1="28.30" y1="385.56" x2="77.30" y2="385.56" stroke="#f2f2f2" stroke-width="0.4"/>
<text x="30.00" y="389.80" font-size="2.8" fill="#555">GSM1041391</text>
<text x="49.80" y="389.80" font-size="2.8" fill="#555">GMP 3</text>
<text x="65.80" y="389.80" font-size="2.8" fill="#555">5.0474</text>
<line x1="28.30" y1="391.24" x2="77.30" y2="391.24" stroke="#f2f2f2" stroke-width="0.4"/>
<text x="30.00" y="395.47" font-size="2.8" fill="#555">GSM1041392</text>
<text x="49.80" y="395.47" font-size="2.8" fill="#555">GMP 4</text>
<text x="65.80" y="395.47" font-size="2.8" fill="#555">5.95838</text>
<line x1="28.30" y1="396.91" x2="77.30" y2="396.91" stroke="#f2f2f2" stroke-width="0.4"/>
<text x="30.00" y="401.15" font-size="2.8" fill="#555">GSM1041393</text>
<text x="49.80" y="401.15" font-size="2.8" fill="#555">GMP 5</text>
<text x="65.80" y="401.15" font-size="2.8" fill="#555">5.38633</text>
<line x1="28.30" y1="402.58" x2="77.30" y2="402.58" stroke="#f2f2f2" stroke-width="0.4"/>
<text x="30.00" y="406.82" font-size="2.8" fill="#555">GSM1041394</text>
<text x="49.80" y="406.82" font-size="2.8" fill="#555">MEP 1</text>
<text x="65.80" y="406.82" font-size="2.8" fill="#555">4.36015</text>
<line x1="28.30" y1="408.25" x2="77.30" y2="408.25" stroke="#f2f2f2" stroke-width="0.4"/>
<text x="30.00" y="412.49" font-size="2.8" fill="#555">GSM1041395</text>
<text x="49.80" y="412.49" font-size="2.8" fill="#555">MEP 2</text>
<text x="65.80" y="412.49" font-size="2.8" fill="#555">4.97224</text>
<line x1="28.30" y1="413.93" x2="77.30" y2="413.93" stroke="#f2f2f2" stroke-width="0.4"/>
<text x="30.00" y="418.16" font-size="2.8" fill="#555">GSM1041396</text>
<text x="49.80" y="418.16" font-size="2.8" fill="#555">early_PM 1</text>
<text x="65.80" y="418.16" font-size="2.8" fill="#555">5.64979</text>
<line x1="28.30" y1="419.60" x2="77.30" y2="419.60" stroke="#f2f2f2" stroke-width="0.4"/>
<text x="30.00" y="423.84" font-size="2.8" fill="#555">GSM1041397</text>
<text x="49.80" y="423.84" font-size="2.8" fill="#555">early_PM 2</text>
<text x="65.80" y="423.84" font-size="2.8" fill="#555">5.04893</text>
<line x1="28.30" y1="425.27" x2="77.30" y2="425.27" stroke="#f2f2f2" stroke-width="0.4"/>
<text x="30.00" y="429.51" font-size="2.8" fill="#555">GSM1041398</text>
<text x="49.80" y="429.51" font-size="2.8" fill="#555">early_PM 3</text>
<text x="65.80" y="429.51" font-size="2.8" fill="#555">6.52336</text>
<line x1="28.30" y1="430.95" x2="77.30" y2="430.95" stroke="#f2f2f2" stroke-width="0.4"/>
<text x="30.00" y="435.18" font-size="2.8" fill="#555">GSM1041399</text>
<text x="49.80" y="435.18" font-size="2.8" fill="#555">late_PM 1</text>
<text x="65.80" y="435.18" font-size="2.8" fill="#555">5.52884</text>
<line x1="28.30" y1="436.62" x2="77.30" y2="436.62" stroke="#f2f2f2" stroke-width="0.4"/>
<text x="30.00" y="440.85" font-size="2.8" fill="#555">GSM1041400</text>
<text x="49.80" y="440.85" font-size="2.8" fill="#555">late_PM 2</text>
<text x="65.80" y="440.85" font-size="2.8" fill="#555">6.60952</text>
<line x1="28.30" y1="442.29" x2="77.30" y2="442.29" stroke="#f2f2f2" stroke-width="0.4"/>
<text x="30.00" y="446.53" font-size="2.8" fill="#555">GSM1041401</text>
<text x="49.80" y="446.53" font-size="2.8" fill="#555">late_PM 3</text>
<text x="65.80" y="446.53" font-size="2.8" fill="#555">6.65798</text>
<line x1="28.30" y1="447.96" x2="77.30" y2="447.96" stroke="#f2f2f2" stroke-width="0.4"/>
<text x="30.00" y="452.20" font-size="2.8" fill="#555">GSM1041402</text>
<text x="49.80" y="452.20" font-size="2.8" fill="#555">MY 1</text>
<text x="65.80" y="452.20" font-size="2.8" fill="#555">6.70113</text>
<line x1="28.30" y1="453.64" x2="77.30" y2="453.64" stroke="#f2f2f2" stroke-width="0.4"/>
<text x="30.00" y="457.87" font-size="2.8" fill="#555">GSM1041403</text>
<text x="49.80" y="457.87" font-size="2.8" fill="#555">MY 2</text>
<text x="65.80" y="457.87" font-size="2.8" fill="#555">7.39352</text>
<line x1="28.30" y1="459.31" x2="77.30" y2="459.31" stroke="#f2f2f2" stroke-width="0.4"/>
<text x="30.00" y="463.55" font-size="2.8" fill="#555">GSM1041404</text>
<text x="49.80" y="463.55" font-size="2.8" fill="#555">MM 1</text>
<text x="65.80" y="463.55" font-size="2.8" fill="#555">7.9684</text>
<line x1="28.30" y1="464.98" x2="77.30" y2="464.98" stroke="#f2f2f2" stroke-width="0.4"/>
<text x="30.00" y="469.22" font-size="2.8" fill="#555">GSM1041405</text>
<text x="49.80" y="469.22" font-size="2.8" fill="#555">MM 2</text>
<text x="65.80" y="469.22" font-size="2.8" fill="#555">7.46613</text>
<line x1="28.30" y1="470.65" x2="77.30" y2="470.65" stroke="#f2f2f2" stroke-width="0.4"/>
<text x="30.00" y="474.89" font-size="2.8" fill="#555">GSM1041406</text>
<text x="49.80" y="474.89" font-size="2.8" fill="#555">MM 3</text>
<text x="65.80" y="474.89" font-size="2.8" fill="#555">7.04678</text>
<line x1="28.30" y1="476.33" x2="77.30" y2="476.33" stroke="#f2f2f2" stroke-width="0.4"/>
<text x="30.00" y="480.56" font-size="2.8" fill="#555">GSM1041407</text>
<text x="49.80" y="480.56" font-size="2.8" fill="#555">BC 1</text>
<text x="65.80" y="480.56" font-size="2.8" fill="#555">7.6052</text>
<line x1="28.30" y1="482.00" x2="77.30" y2="482.00" stroke="#f2f2f2" stroke-width="0.4"/>
<text x="30.00" y="486.24" font-size="2.8" fill="#555">GSM1041408</text>
<text x="49.80" y="486.24" font-size="2.8" fill="#555">BC 2</text>
<text x="65.80" y="486.24" font-size="2.8" fill="#555">7.70861</text>
<line x1="28.30" y1="487.67" x2="77.30" y2="487.67" stroke="#f2f2f2" stroke-width="0.4"/>
<text x="30.00" y="491.91" font-size="2.8" fill="#555">GSM1041409</text>
<text x="49.80" y="491.91" font-size="2.8" fill="#555">BC 3</text>
<text x="65.80" y="491.91" font-size="2.8" fill="#555">8.05841</text>
<line x1="28.30" y1="493.35" x2="77.30" y2="493.35" stroke="#f2f2f2" stroke-width="0.4"/>
<text x="30.00" y="497.58" font-size="2.8" fill="#555">GSM1041410</text>
<text x="49.80" y="497.58" font-size="2.8" fill="#555">BC 4</text>
<text x="65.80" y="497.58" font-size="2.8" fill="#555">7.59729</text>
<line x1="28.30" y1="499.02" x2="77.30" y2="499.02" stroke="#f2f2f2" stroke-width="0.4"/>
<text x="30.00" y="503.25" font-size="2.8" fill="#555">GSM1041411</text>
<text x="49.80" y="503.25" font-size="2.8" fill="#555">PMN 1</text>
<text x="65.80" y="503.25" font-size="2.8" fill="#555">7.67621</text>
<line x1="28.30" y1="504.69" x2="77.30" y2="504.69" stroke="#f2f2f2" stroke-width="0.4"/>
<text x="30.00" y="508.93" font-size="2.8" fill="#555">GSM1041412</text>
<text x="49.80" y="508.93" font-size="2.8" fill="#555">PMN 2</text>
<text x="65.80" y="508.93" font-size="2.8" fill="#555">7.60003</text>
<line x1="28.30" y1="510.36" x2="77.30" y2="510.36" stroke="#f2f2f2" stroke-width="0.4"/>
<text x="30.00" y="514.60" font-size="2.8" fill="#555">GSM1041413</text>
<text x="49.80" y="514.60" font-size="2.8" fill="#555">PMN 3</text>
<text x="65.80" y="514.60" font-size="2.8" fill="#555">8.0084</text>
<line x1="28.30" y1="516.04" x2="77.30" y2="516.04" stroke="#f2f2f2" stroke-width="0.4"/>
<rect x="27.30" y="323.20" width="51.40" height="22.40" fill="none" stroke="#2a6aa5" stroke-width="0.9"/>
<line x1="93.20" y1="322.80" x2="247.30" y2="322.80" stroke="#bbb" stroke-width="0.9"/>
<line x1="247.30" y1="322.80" x2="247.30" y2="369.10" stroke="#bbb" stroke-width="0.8"/>
<line x1="93.20" y1="328.00" x2="247.30" y2="328.00" stroke="#e4e4e4" stroke-width="0.6"/>
<circle cx="92.4" cy="328.0" r="0.35" fill="#f55"/>
<line x1="93.20" y1="333.10" x2="247.30" y2="333.10" stroke="#e4e4e4" stroke-width="0.6"/>
<circle cx="92.4" cy="333.1" r="0.35" fill="#f55"/>
<line x1="93.20" y1="338.20" x2="247.30" y2="338.20" stroke="#e4e4e4" stroke-width="0.6"/>
<circle cx="92.4" cy="338.2" r="0.35" fill="#f55"/>
<line x1="93.20" y1="343.30" x2="247.30" y2="343.30" stroke="#e4e4e4" stroke-width="0.6"/>
<circle cx="92.4" cy="343.3" r="0.35" fill="#f55"/>
<line x1="93.20" y1="348.40" x2="247.30" y2="348.40" stroke="#e4e4e4" stroke-width="0.6"/>
<circle cx="92.4" cy="348.4" r="0.35" fill="#f55"/>
<rect x="93.20" y="353.30" width="154.10" height="15.80" fill="#bdbdbd"/>
<line x1="94.25" y1="354.10" x2="94.25" y2="368.80" stroke="#ececec" stroke-width="0.45"/>
<line x1="97.35" y1="354.10" x2="97.35" y2="368.80" stroke="#ececec" stroke-width="0.45"/>
<line x1="95.80" y1="354.90" x2="95.80" y2="365.90" stroke="#7a7a7a" stroke-width="0.75" stroke-dasharray="2.6 0.9"/>
<rect x="94.50" y="367.30" width="2.60" height="1.40" fill="#ececec"/>
<line x1="98.78" y1="354.10" x2="98.78" y2="368.80" stroke="#ececec" stroke-width="0.45"/>
<line x1="101.88" y1="354.10" x2="101.88" y2="368.80" stroke="#ececec" stroke-width="0.45"/>
<line x1="100.33" y1="354.90" x2="100.33" y2="365.90" stroke="#7a7a7a" stroke-width="0.75" stroke-dasharray="2.6 0.9"/>
<rect x="99.03" y="367.30" width="2.60" height="1.40" fill="#ececec"/>
<line x1="103.31" y1="354.10" x2="103.31" y2="368.80" stroke="#ececec" stroke-width="0.45"/>
<line x1="106.41" y1="354.10" x2="106.41" y2="368.80" stroke="#ececec" stroke-width="0.45"/>
<line x1="104.86" y1="354.90" x2="104.86" y2="365.90" stroke="#7a7a7a" stroke-width="0.75" stroke-dasharray="2.6 0.9"/>
<rect x="103.56" y="367.30" width="2.60" height="1.40" fill="#ececec"/>
<line x1="107.84" y1="354.10" x2="107.84" y2="368.80" stroke="#ececec" stroke-width="0.45"/>
<line x1="110.94" y1="354.10" x2="110.94" y2="368.80" stroke="#ececec" stroke-width="0.45"/>
<line x1="109.39" y1="354.90" x2="109.39" y2="365.90" stroke="#7a7a7a" stroke-width="0.75" stroke-dasharray="2.6 0.9"/>
<rect x="108.09" y="367.30" width="2.60" height="1.40" fill="#ececec"/>
<line x1="112.37" y1="354.10" x2="112.37" y2="368.80" stroke="#ececec" stroke-width="0.45"/>
<line x1="115.47" y1="354.10" x2="115.47" y2="368.80" stroke="#ececec" stroke-width="0.45"/>
<line x1="113.92" y1="354.90" x2="113.92" y2="365.90" stroke="#7a7a7a" stroke-width="0.75" stroke-dasharray="2.6 0.9"/>
<rect x="112.62" y="367.30" width="2.60" height="1.40" fill="#ececec"/>
<line x1="116.90" y1="354.10" x2="116.90" y2="368.80" stroke="#ececec" stroke-width="0.45"/>
<line x1="120.00" y1="354.10" x2="120.00" y2="368.80" stroke="#ececec" stroke-width="0.45"/>
<line x1="118.45" y1="354.90" x2="118.45" y2="365.90" stroke="#7a7a7a" stroke-width="0.75" stroke-dasharray="2.6 0.9"/>
<rect x="117.15" y="367.30" width="2.60" height="1.40" fill="#ececec"/>
<line x1="121.43" y1="354.10" x2="121.43" y2="368.80" stroke="#ececec" stroke-width="0.45"/>
<line x1="124.53" y1="354.10" x2="124.53" y2="368.80" stroke="#ececec" stroke-width="0.45"/>
<line x1="122.98" y1="354.90" x2="122.98" y2="365.90" stroke="#7a7a7a" stroke-width="0.75" stroke-dasharray="2.6 0.9"/>
<rect x="121.68" y="367.30" width="2.60" height="1.40" fill="#ececec"/>
<line x1="125.96" y1="354.10" x2="125.96" y2="368.80" stroke="#ececec" stroke-width="0.45"/>
<line x1="129.06" y1="354.10" x2="129.06" y2="368.80" stroke="#ececec" stroke-width="0.45"/>
<line x1="127.51" y1="354.90" x2="127.51" y2="365.90" stroke="#7a7a7a" stroke-width="0.75" stroke-dasharray="2.6 0.9"/>
<rect x="126.21" y="367.30" width="2.60" height="1.40" fill="#ececec"/>
<line x1="130.49" y1="354.10" x2="130.49" y2="368.80" stroke="#ececec" stroke-width="0.45"/>
<line x1="133.59" y1="354.10" x2="133.59" y2="368.80" stroke="#ececec" stroke-width="0.45"/>
<line x1="132.04" y1="354.90" x2="132.04" y2="365.90" stroke="#7a7a7a" stroke-width="0.75" stroke-dasharray="2.6 0.9"/>
<rect x="130.74" y="367.30" width="2.60" height="1.40" fill="#ececec"/>
<line x1="135.02" y1="354.10" x2="135.02" y2="368.80" stroke="#ececec" stroke-width="0.45"/>
<line x1="138.12" y1="354.10" x2="138.12" y2="368.80" stroke="#ececec" stroke-width="0.45"/>
<line x1="136.57" y1="354.90" x2="136.57" y2="365.90" stroke="#7a7a7a" stroke-width="0.75" stroke-dasharray="2.6 0.9"/>
<rect x="135.27" y="367.30" width="2.60" height="1.40" fill="#ececec"/>
<line x1="139.55" y1="354.10" x2="139.55" y2="368.80" stroke="#ececec" stroke-width="0.45"/>
<line x1="142.65" y1="354.10" x2="142.65" y2="368.80" stroke="#ececec" stroke-width="0.45"/>
<line x1="141.10" y1="354.90" x2="141.10" y2="365.90" stroke="#7a7a7a" stroke-width="0.75" stroke-dasharray="2.6 0.9"/>
<rect x="139.80" y="367.30" width="2.60" height="1.40" fill="#ececec"/>
<line x1="144.08" y1="354.10" x2="144.08" y2="368.80" stroke="#ececec" stroke-width="0.45"/>
<line x1="147.18" y1="354.10" x2="147.18" y2="368.80" stroke="#ececec" stroke-width="0.45"/>
<line x1="145.63" y1="354.90" x2="145.63" y2="365.90" stroke="#7a7a7a" stroke-width="0.75" stroke-dasharray="2.6 0.9"/>
<rect x="144.33" y="367.30" width="2.60" height="1.40" fill="#ececec"/>
<line x1="148.61" y1="354.10" x2="148.61" y2="368.80" stroke="#ececec" stroke-width="0.45"/>
<line x1="151.71" y1="354.10" x2="151.71" y2="368.80" stroke="#ececec" stroke-width="0.45"/>
<line x1="150.16" y1="354.90" x2="150.16" y2="365.90" stroke="#7a7a7a" stroke-width="0.75" stroke-dasharray="2.6 0.9"/>
<rect x="148.86" y="367.30" width="2.60" height="1.40" fill="#ececec"/>
<line x1="153.14" y1="354.10" x2="153.14" y2="368.80" stroke="#ececec" stroke-width="0.45"/>
<line x1="156.24" y1="354.10" x2="156.24" y2="368.80" stroke="#ececec" stroke-width="0.45"/>
<line x1="154.69" y1="354.90" x2="154.69" y2="365.90" stroke="#7a7a7a" stroke-width="0.75" stroke-dasharray="2.6 0.9"/>
<rect x="153.39" y="367.30" width="2.60" height="1.40" fill="#ececec"/>
<line x1="157.67" y1="354.10" x2="157.67" y2="368.80" stroke="#ececec" stroke-width="0.45"/>
<line x1="160.77" y1="354.10" x2="160.77" y2="368.80" stroke="#ececec" stroke-width="0.45"/>
<line x1="159.22" y1="354.90" x2="159.22" y2="365.90" stroke="#7a7a7a" stroke-width="0.75" stroke-dasharray="2.6 0.9"/>
<rect x="157.92" y="367.30" width="2.60" height="1.40" fill="#ececec"/>
<line x1="162.20" y1="354.10" x2="162.20" y2="368.80" stroke="#ececec" stroke-width="0.45"/>
<line x1="165.30" y1="354.10" x2="165.30" y2="368.80" stroke="#ececec" stroke-width="0.45"/>
<line x1="163.75" y1="354.90" x2="163.75" y2="365.90" stroke="#7a7a7a" stroke-width="0.75" stroke-dasharray="2.6 0.9"/>
<rect x="162.45" y="367.30" width="2.60" height="1.40" fill="#ececec"/>
<line x1="166.73" y1="354.10" x2="166.73" y2="368.80" stroke="#ececec" stroke-width="0.45"/>
<line x1="169.83" y1="354.10" x2="169.83" y2="368.80" stroke="#ececec" stroke-width="0.45"/>
<line x1="168.28" y1="354.90" x2="168.28" y2="365.90" stroke="#7a7a7a" stroke-width="0.75" stroke-dasharray="2.6 0.9"/>
<rect x="166.98" y="367.30" width="2.60" height="1.40" fill="#ececec"/>
<line x1="171.26" y1="354.10" x2="171.26" y2="368.80" stroke="#ececec" stroke-width="0.45"/>
<line x1="174.36" y1="354.10" x2="174.36" y2="368.80" stroke="#ececec" stroke-width="0.45"/>
<line x1="172.81" y1="354.90" x2="172.81" y2="365.90" stroke="#7a7a7a" stroke-width="0.75" stroke-dasharray="2.6 0.9"/>
<rect x="171.51" y="367.30" width="2.60" height="1.40" fill="#ececec"/>
<line x1="175.79" y1="354.10" x2="175.79" y2="368.80" stroke="#ececec" stroke-width="0.45"/>
<line x1="178.89" y1="354.10" x2="178.89" y2="368.80" stroke="#ececec" stroke-width="0.45"/>
<line x1="177.34" y1="354.90" x2="177.34" y2="365.90" stroke="#7a7a7a" stroke-width="0.75" stroke-dasharray="2.6 0.9"/>
<rect x="176.04" y="367.30" width="2.60" height="1.40" fill="#ececec"/>
<line x1="180.32" y1="354.10" x2="180.32" y2="368.80" stroke="#ececec" stroke-width="0.45"/>
<line x1="183.42" y1="354.10" x2="183.42" y2="368.80" stroke="#ececec" stroke-width="0.45"/>
<line x1="181.87" y1="354.90" x2="181.87" y2="365.90" stroke="#7a7a7a" stroke-width="0.75" stroke-dasharray="2.6 0.9"/>
<rect x="180.57" y="367.30" width="2.60" height="1.40" fill="#ececec"/>
<line x1="184.85" y1="354.10" x2="184.85" y2="368.80" stroke="#ececec" stroke-width="0.45"/>
<line x1="187.95" y1="354.10" x2="187.95" y2="368.80" stroke="#ececec" stroke-width="0.45"/>
<line x1="186.40" y1="354.90" x2="186.40" y2="365.90" stroke="#7a7a7a" stroke-width="0.75" stroke-dasharray="2.6 0.9"/>
<rect x="185.10" y="367.30" width="2.60" height="1.40" fill="#ececec"/>
<line x1="189.38" y1="354.10" x2="189.38" y2="368.80" stroke="#ececec" stroke-width="0.45"/>
<line x1="192.48" y1="354.10" x2="192.48" y2="368.80" stroke="#ececec" stroke-width="0.45"/>
<line x1="190.93" y1="354.90" x2="190.93" y2="365.90" stroke="#7a7a7a" stroke-width="0.75" stroke-dasharray="2.6 0.9"/>
<rect x="189.63" y="367.30" width="2.60" height="1.40" fill="#ececec"/>
<line x1="193.91" y1="354.10" x2="193.91" y2="368.80" stroke="#ececec" stroke-width="0.45"/>
<line x1="197.01" y1="354.10" x2="197.01" y2="368.80" stroke="#ececec" stroke-width="0.45"/>
<line x1="195.46" y1="354.90" x2="195.46" y2="365.90" stroke="#7a7a7a" stroke-width="0.75" stroke-dasharray="2.6 0.9"/>
<rect x="194.16" y="367.30" width="2.60" height="1.40" fill="#ececec"/>
<line x1="198.44" y1="354.10" x2="198.44" y2="368.80" stroke="#ececec" stroke-width="0.45"/>
<line x1="201.54" y1="354.10" x2="201.54" y2="368.80" stroke="#ececec" stroke-width="0.45"/>
<line x1="199.99" y1="354.90" x2="199.99" y2="365.90" stroke="#7a7a7a" stroke-width="0.75" stroke-dasharray="2.6 0.9"/>
<rect x="198.69" y="367.30" width="2.60" height="1.40" fill="#ececec"/>
<line x1="202.97" y1="354.10" x2="202.97" y2="368.80" stroke="#ececec" stroke-width="0.45"/>
<line x1="206.07" y1="354.10" x2="206.07" y2="368.80" stroke="#ececec" stroke-width="0.45"/>
<line x1="204.52" y1="354.90" x2="204.52" y2="365.90" stroke="#7a7a7a" stroke-width="0.75" stroke-dasharray="2.6 0.9"/>
<rect x="203.22" y="367.30" width="2.60" height="1.40" fill="#ececec"/>
<line x1="207.50" y1="354.10" x2="207.50" y2="368.80" stroke="#ececec" stroke-width="0.45"/>
<line x1="210.60" y1="354.10" x2="210.60" y2="368.80" stroke="#ececec" stroke-width="0.45"/>
<line x1="209.05" y1="354.90" x2="209.05" y2="365.90" stroke="#7a7a7a" stroke-width="0.75" stroke-dasharray="2.6 0.9"/>
<rect x="207.75" y="367.30" width="2.60" height="1.40" fill="#ececec"/>
<line x1="212.03" y1="354.10" x2="212.03" y2="368.80" stroke="#ececec" stroke-width="0.45"/>
<line x1="215.13" y1="354.10" x2="215.13" y2="368.80" stroke="#ececec" stroke-width="0.45"/>
<line x1="213.58" y1="354.90" x2="213.58" y2="365.90" stroke="#7a7a7a" stroke-width="0.75" stroke-dasharray="2.6 0.9"/>
<rect x="212.28" y="367.30" width="2.60" height="1.40" fill="#ececec"/>
<line x1="216.56" y1="354.10" x2="216.56" y2="368.80" stroke="#ececec" stroke-width="0.45"/>
<line x1="219.66" y1="354.10" x2="219.66" y2="368.80" stroke="#ececec" stroke-width="0.45"/>
<line x1="218.11" y1="354.90" x2="218.11" y2="365.90" stroke="#7a7a7a" stroke-width="0.75" stroke-dasharray="2.6 0.9"/>
<rect x="216.81" y="367.30" width="2.60" height="1.40" fill="#ececec"/>
<line x1="221.09" y1="354.10" x2="221.09" y2="368.80" stroke="#ececec" stroke-width="0.45"/>
<line x1="224.19" y1="354.10" x2="224.19" y2="368.80" stroke="#ececec" stroke-width="0.45"/>
<line x1="222.64" y1="354.90" x2="222.64" y2="365.90" stroke="#7a7a7a" stroke-width="0.75" stroke-dasharray="2.6 0.9"/>
<rect x="221.34" y="367.30" width="2.60" height="1.40" fill="#ececec"/>
<line x1="225.62" y1="354.10" x2="225.62" y2="368.80" stroke="#ececec" stroke-width="0.45"/>
<line x1="228.72" y1="354.10" x2="228.72" y2="368.80" stroke="#ececec" stroke-width="0.45"/>
<line x1="227.17" y1="354.90" x2="227.17" y2="365.90" stroke="#7a7a7a" stroke-width="0.75" stroke-dasharray="2.6 0.9"/>
<rect x="225.87" y="367.30" width="2.60" height="1.40" fill="#ececec"/>
<line x1="230.15" y1="354.10" x2="230.15" y2="368.80" stroke="#ececec" stroke-width="0.45"/>
<line x1="233.25" y1="354.10" x2="233.25" y2="368.80" stroke="#ececec" stroke-width="0.45"/>
<line x1="231.70" y1="354.90" x2="231.70" y2="365.90" stroke="#7a7a7a" stroke-width="0.75" stroke-dasharray="2.6 0.9"/>
<rect x="230.40" y="367.30" width="2.60" height="1.40" fill="#ececec"/>
<line x1="234.68" y1="354.10" x2="234.68" y2="368.80" stroke="#ececec" stroke-width="0.45"/>
<line x1="237.78" y1="354.10" x2="237.78" y2="368.80" stroke="#ececec" stroke-width="0.45"/>
<line x1="236.23" y1="354.90" x2="236.23" y2="365.90" stroke="#7a7a7a" stroke-width="0.75" stroke-dasharray="2.6 0.9"/>
<rect x="234.93" y="367.30" width="2.60" height="1.40" fill="#ececec"/>
<line x1="239.21" y1="354.10" x2="239.21" y2="368.80" stroke="#ececec" stroke-width="0.45"/>
<line x1="242.31" y1="354.10" x2="242.31" y2="368.80" stroke="#ececec" stroke-width="0.45"/>
<line x1="240.76" y1="354.90" x2="240.76" y2="365.90" stroke="#7a7a7a" stroke-width="0.75" stroke-dasharray="2.6 0.9"/>
<rect x="239.46" y="367.30" width="2.60" height="1.40" fill="#ececec"/>
<line x1="243.74" y1="354.10" x2="243.74" y2="368.80" stroke="#ececec" stroke-width="0.45"/>
<line x1="246.84" y1="354.10" x2="246.84" y2="368.80" stroke="#ececec" stroke-width="0.45"/>
<line x1="245.29" y1="354.90" x2="245.29" y2="365.90" stroke="#7a7a7a" stroke-width="0.75" stroke-dasharray="2.6 0.9"/>
<rect x="243.99" y="367.30" width="2.60" height="1.40" fill="#ececec"/>
<rect x="95.10" y="331.30" width="1.40" height="22.00" fill="#ff6a5a"/>
<rect x="99.63" y="328.00" width="1.40" height="25.30" fill="#ff4a4a"/>
<rect x="104.16" y="345.00" width="1.40" height="8.30" fill="#ff4a4a"/>
<rect x="108.69" y="331.30" width="1.40" height="22.00" fill="#ff6a5a"/>
<rect x="113.22" y="345.70" width="1.40" height="7.60" fill="#ff4a4a"/>
<rect x="117.75" y="335.70" width="1.40" height="17.60" fill="#ff4a4a"/>
<rect x="122.28" y="348.40" width="1.40" height="4.90" fill="#ff6a5a"/>
<rect x="126.81" y="345.20" width="1.40" height="8.10" fill="#ff4a4a"/>
<rect x="131.34" y="349.10" width="1.40" height="4.20" fill="#ff4a4a"/>
<rect x="135.87" y="343.00" width="1.40" height="10.30" fill="#ff6a5a"/>
<rect x="140.40" y="339.80" width="1.40" height="13.50" fill="#ff4a4a"/>
<rect x="144.93" y="347.20" width="1.40" height="6.10" fill="#ff4a4a"/>
<rect x="149.46" y="349.50" width="1.40" height="3.80" fill="#ff6a5a"/>
<rect x="153.99" y="347.60" width="1.40" height="5.70" fill="#ff4a4a"/>
<rect x="158.52" y="350.50" width="1.40" height="2.80" fill="#ff4a4a"/>
<rect x="163.05" y="349.80" width="1.40" height="3.50" fill="#ff6a5a"/>
<rect x="167.58" y="350.10" width="1.40" height="3.20" fill="#ff4a4a"/>
<rect x="172.11" y="349.50" width="1.40" height="3.80" fill="#ff4a4a"/>
<rect x="176.64" y="348.00" width="1.40" height="5.30" fill="#ff6a5a"/>
<rect x="181.17" y="349.50" width="1.40" height="3.80" fill="#ff4a4a"/>
<rect x="185.70" y="350.00" width="1.40" height="3.30" fill="#ff4a4a"/>
<rect x="190.23" y="351.70" width="1.40" height="1.60" fill="#ff6a5a"/>
<rect x="194.76" y="350.00" width="1.40" height="3.30" fill="#ff4a4a"/>
<rect x="199.29" y="350.50" width="1.40" height="2.80" fill="#ff4a4a"/>
<rect x="203.82" y="351.00" width="1.40" height="2.30" fill="#ff6a5a"/>
<rect x="208.35" y="348.00" width="1.40" height="5.30" fill="#ff4a4a"/>
<rect x="212.88" y="348.30" width="1.40" height="5.00" fill="#ff4a4a"/>
<rect x="217.41" y="344.60" width="1.40" height="8.70" fill="#ff6a5a"/>
<rect x="221.94" y="347.00" width="1.40" height="6.30" fill="#ff4a4a"/>
<rect x="226.47" y="343.70" width="1.40" height="9.60" fill="#ff4a4a"/>
<rect x="231.00" y="348.00" width="1.40" height="5.30" fill="#ff6a5a"/>
<rect x="235.53" y="344.00" width="1.40" height="9.30" fill="#ff4a4a"/>
<rect x="240.06" y="345.00" width="1.40" height="8.30" fill="#ff4a4a"/>
<rect x="244.59" y="343.20" width="1.40" height="10.10" fill="#ff6a5a"/>
<text x="93.50" y="321.00" font-size="2.6" fill="#666">GSE42519 / GPL570 / 1555008_a_at</text>
<rect x="133.20" y="318.20" width="25.40" height="9.60" fill="#ff0000"/>
<text x="145.90" y="325.00" font-size="5.6" text-anchor="middle" font-weight="bold" fill="#200">NKX2-3</text>
<circle cx="93.6" cy="371.7" r="0.45" fill="#f33"/>
<text x="96.00" y="372.50" font-size="2.35" fill="#555">expression value</text>
<line x1="93.20" y1="369.30" x2="247.30" y2="369.30" stroke="#999" stroke-width="0.7"/>
<line x1="93.20" y1="391.90" x2="247.30" y2="391.90" stroke="#bbb" stroke-width="0.9"/>
<line x1="247.30" y1="391.90" x2="247.30" y2="438.20" stroke="#bbb" stroke-width="0.8"/>
<line x1="93.20" y1="398.00" x2="247.30" y2="398.00" stroke="#e4e4e4" stroke-width="0.6"/>
<circle cx="92.4" cy="398.0" r="0.35" fill="#f55"/>
<line x1="93.20" y1="404.20" x2="247.30" y2="404.20" stroke="#e4e4e4" stroke-width="0.6"/>
<circle cx="92.4" cy="404.2" r="0.35" fill="#f55"/>
<line x1="93.20" y1="410.30" x2="247.30" y2="410.30" stroke="#e4e4e4" stroke-width="0.6"/>
<circle cx="92.4" cy="410.3" r="0.35" fill="#f55"/>
<line x1="93.20" y1="416.40" x2="247.30" y2="416.40" stroke="#e4e4e4" stroke-width="0.6"/>
<circle cx="92.4" cy="416.4" r="0.35" fill="#f55"/>
<rect x="93.20" y="422.40" width="154.10" height="15.80" fill="#bdbdbd"/>
<line x1="94.25" y1="423.20" x2="94.25" y2="437.90" stroke="#ececec" stroke-width="0.45"/>
<line x1="97.35" y1="423.20" x2="97.35" y2="437.90" stroke="#ececec" stroke-width="0.45"/>
<line x1="95.80" y1="424.00" x2="95.80" y2="435.00" stroke="#7a7a7a" stroke-width="0.75" stroke-dasharray="2.6 0.9"/>
<rect x="94.50" y="436.40" width="2.60" height="1.40" fill="#ececec"/>
<line x1="98.78" y1="423.20" x2="98.78" y2="437.90" stroke="#ececec" stroke-width="0.45"/>
<line x1="101.88" y1="423.20" x2="101.88" y2="437.90" stroke="#ececec" stroke-width="0.45"/>
<line x1="100.33" y1="424.00" x2="100.33" y2="435.00" stroke="#7a7a7a" stroke-width="0.75" stroke-dasharray="2.6 0.9"/>
<rect x="99.03" y="436.40" width="2.60" height="1.40" fill="#ececec"/>
<line x1="103.31" y1="423.20" x2="103.31" y2="437.90" stroke="#ececec" stroke-width="0.45"/>
<line x1="106.41" y1="423.20" x2="106.41" y2="437.90" stroke="#ececec" stroke-width="0.45"/>
<line x1="104.86" y1="424.00" x2="104.86" y2="435.00" stroke="#7a7a7a" stroke-width="0.75" stroke-dasharray="2.6 0.9"/>
<rect x="103.56" y="436.40" width="2.60" height="1.40" fill="#ececec"/>
<line x1="107.84" y1="423.20" x2="107.84" y2="437.90" stroke="#ececec" stroke-width="0.45"/>
<line x1="110.94" y1="423.20" x2="110.94" y2="437.90" stroke="#ececec" stroke-width="0.45"/>
<line x1="109.39" y1="424.00" x2="109.39" y2="435.00" stroke="#7a7a7a" stroke-width="0.75" stroke-dasharray="2.6 0.9"/>
<rect x="108.09" y="436.40" width="2.60" height="1.40" fill="#ececec"/>
<line x1="112.37" y1="423.20" x2="112.37" y2="437.90" stroke="#ececec" stroke-width="0.45"/>
<line x1="115.47" y1="423.20" x2="115.47" y2="437.90" stroke="#ececec" stroke-width="0.45"/>
<line x1="113.92" y1="424.00" x2="113.92" y2="435.00" stroke="#7a7a7a" stroke-width="0.75" stroke-dasharray="2.6 0.9"/>
<rect x="112.62" y="436.40" width="2.60" height="1.40" fill="#ececec"/>
<line x1="116.90" y1="423.20" x2="116.90" y2="437.90" stroke="#ececec" stroke-width="0.45"/>
<line x1="120.00" y1="423.20" x2="120.00" y2="437.90" stroke="#ececec" stroke-width="0.45"/>
<line x1="118.45" y1="424.00" x2="118.45" y2="435.00" stroke="#7a7a7a" stroke-width="0.75" stroke-dasharray="2.6 0.9"/>
<rect x="117.15" y="436.40" width="2.60" height="1.40" fill="#ececec"/>
<line x1="121.43" y1="423.20" x2="121.43" y2="437.90" stroke="#ececec" stroke-width="0.45"/>
<line x1="124.53" y1="423.20" x2="124.53" y2="437.90" stroke="#ececec" stroke-width="0.45"/>
<line x1="122.98" y1="424.00" x2="122.98" y2="435.00" stroke="#7a7a7a" stroke-width="0.75" stroke-dasharray="2.6 0.9"/>
<rect x="121.68" y="436.40" width="2.60" height="1.40" fill="#ececec"/>
<line x1="125.96" y1="423.20" x2="125.96" y2="437.90" stroke="#ececec" stroke-width="0.45"/>
<line x1="129.06" y1="423.20" x2="129.06" y2="437.90" stroke="#ececec" stroke-width="0.45"/>
<line x1="127.51" y1="424.00" x2="127.51" y2="435.00" stroke="#7a7a7a" stroke-width="0.75" stroke-dasharray="2.6 0.9"/>
<rect x="126.21" y="436.40" width="2.60" height="1.40" fill="#ececec"/>
<line x1="130.49" y1="423.20" x2="130.49" y2="437.90" stroke="#ececec" stroke-width="0.45"/>
<line x1="133.59" y1="423.20" x2="133.59" y2="437.90" stroke="#ececec" stroke-width="0.45"/>
<line x1="132.04" y1="424.00" x2="132.04" y2="435.00" stroke="#7a7a7a" stroke-width="0.75" stroke-dasharray="2.6 0.9"/>
<rect x="130.74" y="436.40" width="2.60" height="1.40" fill="#ececec"/>
<line x1="135.02" y1="423.20" x2="135.02" y2="437.90" stroke="#ececec" stroke-width="0.45"/>
<line x1="138.12" y1="423.20" x2="138.12" y2="437.90" stroke="#ececec" stroke-width="0.45"/>
<line x1="136.57" y1="424.00" x2="136.57" y2="435.00" stroke="#7a7a7a" stroke-width="0.75" stroke-dasharray="2.6 0.9"/>
<rect x="135.27" y="436.40" width="2.60" height="1.40" fill="#ececec"/>
<line x1="139.55" y1="423.20" x2="139.55" y2="437.90" stroke="#ececec" stroke-width="0.45"/>
<line x1="142.65" y1="423.20" x2="142.65" y2="437.90" stroke="#ececec" stroke-width="0.45"/>
<line x1="141.10" y1="424.00" x2="141.10" y2="435.00" stroke="#7a7a7a" stroke-width="0.75" stroke-dasharray="2.6 0.9"/>
<rect x="139.80" y="436.40" width="2.60" height="1.40" fill="#ececec"/>
<line x1="144.08" y1="423.20" x2="144.08" y2="437.90" stroke="#ececec" stroke-width="0.45"/>
<line x1="147.18" y1="423.20" x2="147.18" y2="437.90" stroke="#ececec" stroke-width="0.45"/>
<line x1="145.63" y1="424.00" x2="145.63" y2="435.00" stroke="#7a7a7a" stroke-width="0.75" stroke-dasharray="2.6 0.9"/>
<rect x="144.33" y="436.40" width="2.60" height="1.40" fill="#ececec"/>
<line x1="148.61" y1="423.20" x2="148.61" y2="437.90" stroke="#ececec" stroke-width="0.45"/>
<line x1="151.71" y1="423.20" x2="151.71" y2="437.90" stroke="#ececec" stroke-width="0.45"/>
<line x1="150.16" y1="424.00" x2="150.16" y2="435.00" stroke="#7a7a7a" stroke-width="0.75" stroke-dasharray="2.6 0.9"/>
<rect x="148.86" y="436.40" width="2.60" height="1.40" fill="#ececec"/>
<line x1="153.14" y1="423.20" x2="153.14" y2="437.90" stroke="#ececec" stroke-width="0.45"/>
<line x1="156.24" y1="423.20" x2="156.24" y2="437.90" stroke="#ececec" stroke-width="0.45"/>
<line x1="154.69" y1="424.00" x2="154.69" y2="435.00" stroke="#7a7a7a" stroke-width="0.75" stroke-dasharray="2.6 0.9"/>
<rect x="153.39" y="436.40" width="2.60" height="1.40" fill="#ececec"/>
<line x1="157.67" y1="423.20" x2="157.67" y2="437.90" stroke="#ececec" stroke-width="0.45"/>
<line x1="160.77" y1="423.20" x2="160.77" y2="437.90" stroke="#ececec" stroke-width="0.45"/>
<line x1="159.22" y1="424.00" x2="159.22" y2="435.00" stroke="#7a7a7a" stroke-width="0.75" stroke-dasharray="2.6 0.9"/>
<rect x="157.92" y="436.40" width="2.60" height="1.40" fill="#ececec"/>
<line x1="162.20" y1="423.20" x2="162.20" y2="437.90" stroke="#ececec" stroke-width="0.45"/>
<line x1="165.30" y1="423.20" x2="165.30" y2="437.90" stroke="#ececec" stroke-width="0.45"/>
<line x1="163.75" y1="424.00" x2="163.75" y2="435.00" stroke="#7a7a7a" stroke-width="0.75" stroke-dasharray="2.6 0.9"/>
<rect x="162.45" y="436.40" width="2.60" height="1.40" fill="#ececec"/>
<line x1="166.73" y1="423.20" x2="166.73" y2="437.90" stroke="#ececec" stroke-width="0.45"/>
<line x1="169.83" y1="423.20" x2="169.83" y2="437.90" stroke="#ececec" stroke-width="0.45"/>
<line x1="168.28" y1="424.00" x2="168.28" y2="435.00" stroke="#7a7a7a" stroke-width="0.75" stroke-dasharray="2.6 0.9"/>
<rect x="166.98" y="436.40" width="2.60" height="1.40" fill="#ececec"/>
<line x1="171.26" y1="423.20" x2="171.26" y2="437.90" stroke="#ececec" stroke-width="0.45"/>
<line x1="174.36" y1="423.20" x2="174.36" y2="437.90" stroke="#ececec" stroke-width="0.45"/>
<line x1="172.81" y1="424.00" x2="172.81" y2="435.00" stroke="#7a7a7a" stroke-width="0.75" stroke-dasharray="2.6 0.9"/>
<rect x="171.51" y="436.40" width="2.60" height="1.40" fill="#ececec"/>
<line x1="175.79" y1="423.20" x2="175.79" y2="437.90" stroke="#ececec" stroke-width="0.45"/>
<line x1="178.89" y1="423.20" x2="178.89" y2="437.90" stroke="#ececec" stroke-width="0.45"/>
<line x1="177.34" y1="424.00" x2="177.34" y2="435.00" stroke="#7a7a7a" stroke-width="0.75" stroke-dasharray="2.6 0.9"/>
<rect x="176.04" y="436.40" width="2.60" height="1.40" fill="#ececec"/>
<line x1="180.32" y1="423.20" x2="180.32" y2="437.90" stroke="#ececec" stroke-width="0.45"/>
<line x1="183.42" y1="423.20" x2="183.42" y2="437.90" stroke="#ececec" stroke-width="0.45"/>
<line x1="181.87" y1="424.00" x2="181.87" y2="435.00" stroke="#7a7a7a" stroke-width="0.75" stroke-dasharray="2.6 0.9"/>
<rect x="180.57" y="436.40" width="2.60" height="1.40" fill="#ececec"/>
<line x1="184.85" y1="423.20" x2="184.85" y2="437.90" stroke="#ececec" stroke-width="0.45"/>
<line x1="187.95" y1="423.20" x2="187.95" y2="437.90" stroke="#ececec" stroke-width="0.45"/>
<line x1="186.40" y1="424.00" x2="186.40" y2="435.00" stroke="#7a7a7a" stroke-width="0.75" stroke-dasharray="2.6 0.9"/>
<rect x="185.10" y="436.40" width="2.60" height="1.40" fill="#ececec"/>
<line x1="189.38" y1="423.20" x2="189.38" y2="437.90" stroke="#ececec" stroke-width="0.45"/>
<line x1="192.48" y1="423.20" x2="192.48" y2="437.90" stroke="#ececec" stroke-width="0.45"/>
<line x1="190.93" y1="424.00" x2="190.93" y2="435.00" stroke="#7a7a7a" stroke-width="0.75" stroke-dasharray="2.6 0.9"/>
<rect x="189.63" y="436.40" width="2.60" height="1.40" fill="#ececec"/>
<line x1="193.91" y1="423.20" x2="193.91" y2="437.90" stroke="#ececec" stroke-width="0.45"/>
<line x1="197.01" y1="423.20" x2="197.01" y2="437.90" stroke="#ececec" stroke-width="0.45"/>
<line x1="195.46" y1="424.00" x2="195.46" y2="435.00" stroke="#7a7a7a" stroke-width="0.75" stroke-dasharray="2.6 0.9"/>
<rect x="194.16" y="436.40" width="2.60" height="1.40" fill="#ececec"/>
<line x1="198.44" y1="423.20" x2="198.44" y2="437.90" stroke="#ececec" stroke-width="0.45"/>
<line x1="201.54" y1="423.20" x2="201.54" y2="437.90" stroke="#ececec" stroke-width="0.45"/>
<line x1="199.99" y1="424.00" x2="199.99" y2="435.00" stroke="#7a7a7a" stroke-width="0.75" stroke-dasharray="2.6 0.9"/>
<rect x="198.69" y="436.40" width="2.60" height="1.40" fill="#ececec"/>
<line x1="202.97" y1="423.20" x2="202.97" y2="437.90" stroke="#ececec" stroke-width="0.45"/>
<line x1="206.07" y1="423.20" x2="206.07" y2="437.90" stroke="#ececec" stroke-width="0.45"/>
<line x1="204.52" y1="424.00" x2="204.52" y2="435.00" stroke="#7a7a7a" stroke-width="0.75" stroke-dasharray="2.6 0.9"/>
<rect x="203.22" y="436.40" width="2.60" height="1.40" fill="#ececec"/>
<line x1="207.50" y1="423.20" x2="207.50" y2="437.90" stroke="#ececec" stroke-width="0.45"/>
<line x1="210.60" y1="423.20" x2="210.60" y2="437.90" stroke="#ececec" stroke-width="0.45"/>
<line x1="209.05" y1="424.00" x2="209.05" y2="435.00" stroke="#7a7a7a" stroke-width="0.75" stroke-dasharray="2.6 0.9"/>
<rect x="207.75" y="436.40" width="2.60" height="1.40" fill="#ececec"/>
<line x1="212.03" y1="423.20" x2="212.03" y2="437.90" stroke="#ececec" stroke-width="0.45"/>
<line x1="215.13" y1="423.20" x2="215.13" y2="437.90" stroke="#ececec" stroke-width="0.45"/>
<line x1="213.58" y1="424.00" x2="213.58" y2="435.00" stroke="#7a7a7a" stroke-width="0.75" stroke-dasharray="2.6 0.9"/>
<rect x="212.28" y="436.40" width="2.60" height="1.40" fill="#ececec"/>
<line x1="216.56" y1="423.20" x2="216.56" y2="437.90" stroke="#ececec" stroke-width="0.45"/>
<line x1="219.66" y1="423.20" x2="219.66" y2="437.90" stroke="#ececec" stroke-width="0.45"/>
<line x1="218.11" y1="424.00" x2="218.11" y2="435.00" stroke="#7a7a7a" stroke-width="0.75" stroke-dasharray="2.6 0.9"/>
<rect x="216.81" y="436.40" width="2.60" height="1.40" fill="#ececec"/>
<line x1="221.09" y1="423.20" x2="221.09" y2="437.90" stroke="#ececec" stroke-width="0.45"/>
<line x1="224.19" y1="423.20" x2="224.19" y2="437.90" stroke="#ececec" stroke-width="0.45"/>
<line x1="222.64" y1="424.00" x2="222.64" y2="435.00" stroke="#7a7a7a" stroke-width="0.75" stroke-dasharray="2.6 0.9"/>
<rect x="221.34" y="436.40" width="2.60" height="1.40" fill="#ececec"/>
<line x1="225.62" y1="423.20" x2="225.62" y2="437.90" stroke="#ececec" stroke-width="0.45"/>
<line x1="228.72" y1="423.20" x2="228.72" y2="437.90" stroke="#ececec" stroke-width="0.45"/>
<line x1="227.17" y1="424.00" x2="227.17" y2="435.00" stroke="#7a7a7a" stroke-width="0.75" stroke-dasharray="2.6 0.9"/>
<rect x="225.87" y="436.40" width="2.60" height="1.40" fill="#ececec"/>
<line x1="230.15" y1="423.20" x2="230.15" y2="437.90" stroke="#ececec" stroke-width="0.45"/>
<line x1="233.25" y1="423.20" x2="233.25" y2="437.90" stroke="#ececec" stroke-width="0.45"/>
<line x1="231.70" y1="424.00" x2="231.70" y2="435.00" stroke="#7a7a7a" stroke-width="0.75" stroke-dasharray="2.6 0.9"/>
<rect x="230.40" y="436.40" width="2.60" height="1.40" fill="#ececec"/>
<line x1="234.68" y1="423.20" x2="234.68" y2="437.90" stroke="#ececec" stroke-width="0.45"/>
<line x1="237.78" y1="423.20" x2="237.78" y2="437.90" stroke="#ececec" stroke-width="0.45"/>
<line x1="236.23" y1="424.00" x2="236.23" y2="435.00" stroke="#7a7a7a" stroke-width="0.75" stroke-dasharray="2.6 0.9"/>
<rect x="234.93" y="436.40" width="2.60" height="1.40" fill="#ececec"/>
<line x1="239.21" y1="423.20" x2="239.21" y2="437.90" stroke="#ececec" stroke-width="0.45"/>
<line x1="242.31" y1="423.20" x2="242.31" y2="437.90" stroke="#ececec" stroke-width="0.45"/>
<line x1="240.76" y1="424.00" x2="240.76" y2="435.00" stroke="#7a7a7a" stroke-width="0.75" stroke-dasharray="2.6 0.9"/>
<rect x="239.46" y="436.40" width="2.60" height="1.40" fill="#ececec"/>
<line x1="243.74" y1="423.20" x2="243.74" y2="437.90" stroke="#ececec" stroke-width="0.45"/>
<line x1="246.84" y1="423.20" x2="246.84" y2="437.90" stroke="#ececec" stroke-width="0.45"/>
<line x1="245.29" y1="424.00" x2="245.29" y2="435.00" stroke="#7a7a7a" stroke-width="0.75" stroke-dasharray="2.6 0.9"/>
<rect x="243.99" y="436.40" width="2.60" height="1.40" fill="#ececec"/>
<rect x="95.10" y="402.70" width="1.40" height="19.70" fill="#ff6a5a"/>
<rect x="99.63" y="401.20" width="1.40" height="21.20" fill="#ff4a4a"/>
<rect x="104.16" y="403.10" width="1.40" height="19.30" fill="#ff4a4a"/>
<rect x="108.69" y="407.90" width="1.40" height="14.50" fill="#ff6a5a"/>
<rect x="113.22" y="406.00" width="1.40" height="16.40" fill="#ff4a4a"/>
<rect x="117.75" y="410.70" width="1.40" height="11.70" fill="#ff4a4a"/>
<rect x="122.28" y="409.60" width="1.40" height="12.80" fill="#ff6a5a"/>
<rect x="126.81" y="411.40" width="1.40" height="11.00" fill="#ff4a4a"/>
<rect x="131.34" y="411.10" width="1.40" height="11.30" fill="#ff4a4a"/>
<rect x="135.87" y="411.40" width="1.40" height="11.00" fill="#ff6a5a"/>
<rect x="140.40" y="409.20" width="1.40" height="13.20" fill="#ff4a4a"/>
<rect x="144.93" y="411.40" width="1.40" height="11.00" fill="#ff4a4a"/>
<rect x="149.46" y="410.70" width="1.40" height="11.70" fill="#ff6a5a"/>
<rect x="153.99" y="414.30" width="1.40" height="8.10" fill="#ff4a4a"/>
<rect x="158.52" y="420.50" width="1.40" height="1.90" fill="#ff4a4a"/>
<rect x="163.05" y="417.20" width="1.40" height="5.20" fill="#ff6a5a"/>
<rect x="167.58" y="406.30" width="1.40" height="16.10" fill="#ff4a4a"/>
<rect x="172.11" y="412.80" width="1.40" height="9.60" fill="#ff4a4a"/>
<rect x="176.64" y="407.10" width="1.40" height="15.30" fill="#ff6a5a"/>
<rect x="181.17" y="413.30" width="1.40" height="9.10" fill="#ff4a4a"/>
<rect x="185.70" y="405.00" width="1.40" height="17.40" fill="#ff4a4a"/>
<rect x="190.23" y="405.10" width="1.40" height="17.30" fill="#ff6a5a"/>
<rect x="194.76" y="405.80" width="1.40" height="16.60" fill="#ff4a4a"/>
<rect x="199.29" y="401.90" width="1.40" height="20.50" fill="#ff4a4a"/>
<rect x="203.82" y="398.10" width="1.40" height="24.30" fill="#ff6a5a"/>
<rect x="208.35" y="401.00" width="1.40" height="21.40" fill="#ff4a4a"/>
<rect x="212.88" y="398.90" width="1.40" height="23.50" fill="#ff4a4a"/>
<rect x="217.41" y="400.70" width="1.40" height="21.70" fill="#ff6a5a"/>
<rect x="221.94" y="400.00" width="1.40" height="22.40" fill="#ff4a4a"/>
<rect x="226.47" y="397.80" width="1.40" height="24.60" fill="#ff4a4a"/>
<rect x="231.00" y="400.50" width="1.40" height="21.90" fill="#ff6a5a"/>
<rect x="235.53" y="400.00" width="1.40" height="22.40" fill="#ff4a4a"/>
<rect x="240.06" y="400.50" width="1.40" height="21.90" fill="#ff4a4a"/>
<rect x="244.59" y="397.80" width="1.40" height="24.60" fill="#ff6a5a"/>
<text x="93.50" y="390.00" font-size="2.6" fill="#666">GSE42519 / GPL570 / 210786_s_at</text>
<rect x="133.00" y="387.50" width="17.00" height="9.50" fill="#ff0000"/>
<text x="141.50" y="394.20" font-size="5.6" text-anchor="middle" font-weight="bold" fill="#200">FLI1</text>
<circle cx="93.6" cy="440.8" r="0.45" fill="#f33"/>
<text x="96.00" y="441.60" font-size="2.35" fill="#555">expression value</text>
<line x1="93.20" y1="438.40" x2="247.30" y2="438.40" stroke="#999" stroke-width="0.7"/>
<rect x="93.40" y="322.70" width="18.40" height="115.60" fill="none" stroke="#2a6aa5" stroke-width="1.0"/>
<text x="99.20" y="450.30" font-size="4.0" fill="#1b7bc9">HSC:</text>
<text x="109.20" y="450.30" font-size="4.0" fill="#222">hematopoietic  stem cells</text>
<text x="264.20" y="320.70" font-size="8.6" font-weight="bold" fill="#000">E</text>
<line x1="292.40" y1="319.50" x2="356.20" y2="319.50" stroke="#aaa" stroke-width="0.8"/>
<line x1="356.20" y1="319.50" x2="356.20" y2="370.40" stroke="#aaa" stroke-width="0.8"/>
<line x1="292.40" y1="336.60" x2="356.20" y2="336.60" stroke="#aaa" stroke-width="1.0"/>
<line x1="292.40" y1="353.50" x2="356.20" y2="353.50" stroke="#aaa" stroke-width="1.0"/>
<line x1="292.40" y1="370.40" x2="356.20" y2="370.40" stroke="#aaa" stroke-width="1.0"/>
<line x1="292.40" y1="319.50" x2="292.40" y2="370.40" stroke="#999" stroke-width="0.9"/>
<text x="289.00" y="320.95" font-size="3.5" text-anchor="end" font-weight="bold" fill="#112">1.5</text>
<line x1="291.20" y1="319.70" x2="292.40" y2="319.70" stroke="#aaa" stroke-width="0.6"/>
<text x="289.00" y="337.85" font-size="3.5" text-anchor="end" font-weight="bold" fill="#112">1.0</text>
<line x1="291.20" y1="336.60" x2="292.40" y2="336.60" stroke="#aaa" stroke-width="0.6"/>
<text x="289.00" y="354.75" font-size="3.5" text-anchor="end" font-weight="bold" fill="#112">0.5</text>
<line x1="291.20" y1="353.50" x2="292.40" y2="353.50" stroke="#aaa" stroke-width="0.6"/>
<text x="289.00" y="371.65" font-size="3.5" text-anchor="end" font-weight="bold" fill="#112">0</text>
<line x1="291.20" y1="370.40" x2="292.40" y2="370.40" stroke="#aaa" stroke-width="0.6"/>
<text x="278.90" y="343.75" font-size="4.0" text-anchor="middle" font-weight="bold" fill="#000" transform="rotate(-90 278.90 343.75)">fold expression</text>
<rect x="297.20" y="336.60" width="6.60" height="33.80" fill="#000"/>
<line x1="300.50" y1="336.60" x2="300.50" y2="335.00" stroke="#000" stroke-width="0.5"/>
<line x1="299.60" y1="335.00" x2="301.40" y2="335.00" stroke="#000" stroke-width="0.5"/>
<rect x="309.30" y="368.37" width="6.60" height="2.03" fill="#000"/>
<line x1="312.60" y1="368.37" x2="312.60" y2="368.07" stroke="#000" stroke-width="0.5"/>
<line x1="311.70" y1="368.07" x2="313.50" y2="368.07" stroke="#000" stroke-width="0.5"/>
<rect x="333.00" y="336.60" width="6.60" height="33.80" fill="#000"/>
<line x1="336.30" y1="336.60" x2="336.30" y2="334.00" stroke="#000" stroke-width="0.5"/>
<line x1="335.40" y1="334.00" x2="337.20" y2="334.00" stroke="#000" stroke-width="0.5"/>
<rect x="344.60" y="348.43" width="6.60" height="21.97" fill="#000"/>
<line x1="347.90" y1="348.43" x2="347.90" y2="347.83" stroke="#000" stroke-width="0.5"/>
<line x1="347.00" y1="347.83" x2="348.80" y2="347.83" stroke="#000" stroke-width="0.5"/>
<rect x="297.80" y="314.50" width="18.60" height="9.90" fill="#fff" stroke="#999" stroke-width="0.8"/>
<text x="307.10" y="321.70" font-size="5.9" text-anchor="middle" fill="#222">SIX5</text>
<rect x="329.40" y="314.50" width="23.20" height="9.90" fill="#fff" stroke="#999" stroke-width="0.8"/>
<text x="341.00" y="321.70" font-size="5.9" text-anchor="middle" fill="#222">GATA1</text>
<text x="312.00" y="367.80" font-size="8.6" text-anchor="middle" font-weight="bold" fill="#111">***</text>
<text x="347.80" y="347.80" font-size="8.6" text-anchor="middle" font-weight="bold" fill="#111">**</text>
<text x="301.20" y="373.00" font-size="4.8" text-anchor="end" fill="#111" transform="rotate(-90 301.20 373.00)">siCTR</text>
<text x="313.30" y="373.00" font-size="4.8" text-anchor="end" fill="#111" transform="rotate(-90 313.30 373.00)">siSIX5</text>
<text x="337.00" y="373.00" font-size="4.8" text-anchor="end" fill="#111" transform="rotate(-90 337.00 373.00)">siCTR</text>
<text x="348.60" y="373.00" font-size="4.8" text-anchor="end" fill="#111" transform="rotate(-90 348.60 373.00)">siSIX5</text>
<text x="324.90" y="399.30" font-size="5.0" text-anchor="middle" font-weight="bold" fill="#111" stroke="#111" stroke-width="0.3">OCI-M2</text>
<line x1="380.30" y1="319.50" x2="444.00" y2="319.50" stroke="#aaa" stroke-width="0.8"/>
<line x1="444.00" y1="319.50" x2="444.00" y2="370.40" stroke="#aaa" stroke-width="0.8"/>
<line x1="380.30" y1="336.60" x2="444.00" y2="336.60" stroke="#aaa" stroke-width="1.0"/>
<line x1="380.30" y1="353.50" x2="444.00" y2="353.50" stroke="#aaa" stroke-width="1.0"/>
<line x1="380.30" y1="370.40" x2="444.00" y2="370.40" stroke="#aaa" stroke-width="1.0"/>
<line x1="380.30" y1="319.50" x2="380.30" y2="370.40" stroke="#999" stroke-width="0.9"/>
<text x="376.90" y="320.95" font-size="3.5" text-anchor="end" font-weight="bold" fill="#112">1.5</text>
<line x1="379.10" y1="319.70" x2="380.30" y2="319.70" stroke="#aaa" stroke-width="0.6"/>
<text x="376.90" y="337.85" font-size="3.5" text-anchor="end" font-weight="bold" fill="#112">1.0</text>
<line x1="379.10" y1="336.60" x2="380.30" y2="336.60" stroke="#aaa" stroke-width="0.6"/>
<text x="376.90" y="354.75" font-size="3.5" text-anchor="end" font-weight="bold" fill="#112">0.5</text>
<line x1="379.10" y1="353.50" x2="380.30" y2="353.50" stroke="#aaa" stroke-width="0.6"/>
<text x="376.90" y="371.65" font-size="3.5" text-anchor="end" font-weight="bold" fill="#112">0</text>
<line x1="379.10" y1="370.40" x2="380.30" y2="370.40" stroke="#aaa" stroke-width="0.6"/>
<text x="366.80" y="343.75" font-size="4.0" text-anchor="middle" font-weight="bold" fill="#000" transform="rotate(-90 366.80 343.75)">fold expression</text>
<rect x="385.30" y="336.60" width="6.60" height="33.80" fill="#000"/>
<line x1="388.60" y1="336.60" x2="388.60" y2="335.00" stroke="#000" stroke-width="0.5"/>
<line x1="387.70" y1="335.00" x2="389.50" y2="335.00" stroke="#000" stroke-width="0.5"/>
<rect x="397.00" y="368.37" width="6.60" height="2.03" fill="#000"/>
<line x1="400.30" y1="368.37" x2="400.30" y2="368.07" stroke="#000" stroke-width="0.5"/>
<line x1="399.40" y1="368.07" x2="401.20" y2="368.07" stroke="#000" stroke-width="0.5"/>
<rect x="421.00" y="336.60" width="6.60" height="33.80" fill="#000"/>
<line x1="424.30" y1="336.60" x2="424.30" y2="334.00" stroke="#000" stroke-width="0.5"/>
<line x1="423.40" y1="334.00" x2="425.20" y2="334.00" stroke="#000" stroke-width="0.5"/>
<rect x="432.60" y="349.11" width="6.60" height="21.29" fill="#000"/>
<line x1="435.90" y1="349.11" x2="435.90" y2="347.91" stroke="#000" stroke-width="0.5"/>
<line x1="435.00" y1="347.91" x2="436.80" y2="347.91" stroke="#000" stroke-width="0.5"/>
<rect x="386.00" y="314.50" width="18.40" height="9.90" fill="#fff" stroke="#999" stroke-width="0.8"/>
<text x="395.20" y="321.70" font-size="5.9" text-anchor="middle" fill="#222">SIX5</text>
<rect x="417.00" y="314.50" width="23.20" height="9.90" fill="#fff" stroke="#999" stroke-width="0.8"/>
<text x="428.60" y="321.70" font-size="5.9" text-anchor="middle" fill="#222">GATA2</text>
<text x="400.00" y="368.50" font-size="8.6" text-anchor="middle" font-weight="bold" fill="#111">***</text>
<text x="435.60" y="348.50" font-size="8.6" text-anchor="middle" font-weight="bold" fill="#111">**</text>
<text x="389.30" y="373.00" font-size="4.8" text-anchor="end" fill="#111" transform="rotate(-90 389.30 373.00)">siCTR</text>
<text x="401.00" y="373.00" font-size="4.8" text-anchor="end" fill="#111" transform="rotate(-90 401.00 373.00)">siSIX5</text>
<text x="425.00" y="373.00" font-size="4.8" text-anchor="end" fill="#111" transform="rotate(-90 425.00 373.00)">siCTR</text>
<text x="436.60" y="373.00" font-size="4.8" text-anchor="end" fill="#111" transform="rotate(-90 436.60 373.00)">siSIX5</text>
<text x="413.00" y="399.30" font-size="5.0" text-anchor="middle" font-weight="bold" fill="#111" stroke="#111" stroke-width="0.3">OCI-M2</text>
<line x1="469.20" y1="319.80" x2="534.00" y2="319.80" stroke="#aaa" stroke-width="0.8"/>
<line x1="534.00" y1="319.80" x2="534.00" y2="370.80" stroke="#aaa" stroke-width="0.8"/>
<line x1="469.20" y1="337.00" x2="534.00" y2="337.00" stroke="#aaa" stroke-width="1.0"/>
<line x1="469.20" y1="353.90" x2="534.00" y2="353.90" stroke="#aaa" stroke-width="1.0"/>
<line x1="469.20" y1="370.80" x2="534.00" y2="370.80" stroke="#aaa" stroke-width="1.0"/>
<line x1="469.20" y1="319.80" x2="469.20" y2="370.80" stroke="#999" stroke-width="0.9"/>
<text x="465.80" y="321.35" font-size="3.5" text-anchor="end" font-weight="bold" fill="#112">1.5</text>
<line x1="468.00" y1="320.10" x2="469.20" y2="320.10" stroke="#aaa" stroke-width="0.6"/>
<text x="465.80" y="338.25" font-size="3.5" text-anchor="end" font-weight="bold" fill="#112">1.0</text>
<line x1="468.00" y1="337.00" x2="469.20" y2="337.00" stroke="#aaa" stroke-width="0.6"/>
<text x="465.80" y="355.15" font-size="3.5" text-anchor="end" font-weight="bold" fill="#112">0.5</text>
<line x1="468.00" y1="353.90" x2="469.20" y2="353.90" stroke="#aaa" stroke-width="0.6"/>
<text x="465.80" y="372.05" font-size="3.5" text-anchor="end" font-weight="bold" fill="#112">0</text>
<line x1="468.00" y1="370.80" x2="469.20" y2="370.80" stroke="#aaa" stroke-width="0.6"/>
<text x="455.70" y="344.10" font-size="4.0" text-anchor="middle" font-weight="bold" fill="#000" transform="rotate(-90 455.70 344.10)">fold expression</text>
<rect x="474.30" y="337.00" width="6.60" height="33.80" fill="#000"/>
<line x1="477.60" y1="337.00" x2="477.60" y2="335.40" stroke="#000" stroke-width="0.5"/>
<line x1="476.70" y1="335.40" x2="478.50" y2="335.40" stroke="#000" stroke-width="0.5"/>
<rect x="486.00" y="368.77" width="6.60" height="2.03" fill="#000"/>
<line x1="489.30" y1="368.77" x2="489.30" y2="368.47" stroke="#000" stroke-width="0.5"/>
<line x1="488.40" y1="368.47" x2="490.20" y2="368.47" stroke="#000" stroke-width="0.5"/>
<rect x="510.00" y="337.00" width="6.60" height="33.80" fill="#000"/>
<line x1="513.30" y1="337.00" x2="513.30" y2="335.40" stroke="#000" stroke-width="0.5"/>
<line x1="512.40" y1="335.40" x2="514.20" y2="335.40" stroke="#000" stroke-width="0.5"/>
<rect x="521.60" y="337.00" width="6.60" height="33.80" fill="#000"/>
<line x1="524.90" y1="337.00" x2="524.90" y2="335.60" stroke="#000" stroke-width="0.5"/>
<line x1="524.00" y1="335.60" x2="525.80" y2="335.60" stroke="#000" stroke-width="0.5"/>
<rect x="474.60" y="314.80" width="18.40" height="9.90" fill="#fff" stroke="#999" stroke-width="0.8"/>
<text x="483.80" y="322.00" font-size="5.9" text-anchor="middle" fill="#222">SIX5</text>
<rect x="511.00" y="314.80" width="17.00" height="9.90" fill="#fff" stroke="#999" stroke-width="0.8"/>
<text x="519.50" y="322.00" font-size="5.9" text-anchor="middle" fill="#222">HBB</text>
<text x="489.00" y="367.90" font-size="8.6" text-anchor="middle" font-weight="bold" fill="#111">***</text>
<text x="524.40" y="330.80" font-size="4.6" text-anchor="middle" font-weight="bold" fill="#111" stroke="#111" stroke-width="0.2">n.s.</text>
<text x="478.30" y="373.40" font-size="4.8" text-anchor="end" fill="#111" transform="rotate(-90 478.30 373.40)">siCTR</text>
<text x="490.00" y="373.40" font-size="4.8" text-anchor="end" fill="#111" transform="rotate(-90 490.00 373.40)">siSIX5</text>
<text x="514.00" y="373.40" font-size="4.8" text-anchor="end" fill="#111" transform="rotate(-90 514.00 373.40)">siCTR</text>
<text x="525.60" y="373.40" font-size="4.8" text-anchor="end" fill="#111" transform="rotate(-90 525.60 373.40)">siSIX5</text>
<text x="501.60" y="399.30" font-size="5.0" text-anchor="middle" font-weight="bold" fill="#111" stroke="#111" stroke-width="0.3">OCI-M2</text>
<line x1="291.60" y1="413.30" x2="355.00" y2="413.30" stroke="#aaa" stroke-width="0.8"/>
<line x1="355.00" y1="413.30" x2="355.00" y2="464.50" stroke="#aaa" stroke-width="0.8"/>
<line x1="291.60" y1="430.60" x2="355.00" y2="430.60" stroke="#aaa" stroke-width="1.0"/>
<line x1="291.60" y1="447.55" x2="355.00" y2="447.55" stroke="#aaa" stroke-width="1.0"/>
<line x1="291.60" y1="464.50" x2="355.00" y2="464.50" stroke="#aaa" stroke-width="1.0"/>
<line x1="291.60" y1="413.30" x2="291.60" y2="464.50" stroke="#999" stroke-width="0.9"/>
<text x="288.20" y="414.90" font-size="3.5" text-anchor="end" font-weight="bold" fill="#112">1.5</text>
<line x1="290.40" y1="413.65" x2="291.60" y2="413.65" stroke="#aaa" stroke-width="0.6"/>
<text x="288.20" y="431.85" font-size="3.5" text-anchor="end" font-weight="bold" fill="#112">1.0</text>
<line x1="290.40" y1="430.60" x2="291.60" y2="430.60" stroke="#aaa" stroke-width="0.6"/>
<text x="288.20" y="448.80" font-size="3.5" text-anchor="end" font-weight="bold" fill="#112">0.5</text>
<line x1="290.40" y1="447.55" x2="291.60" y2="447.55" stroke="#aaa" stroke-width="0.6"/>
<text x="288.20" y="465.75" font-size="3.5" text-anchor="end" font-weight="bold" fill="#112">0</text>
<line x1="290.40" y1="464.50" x2="291.60" y2="464.50" stroke="#aaa" stroke-width="0.6"/>
<text x="278.10" y="437.70" font-size="4.0" text-anchor="middle" font-weight="bold" fill="#000" transform="rotate(-90 278.10 437.70)">fold expression</text>
<rect x="296.90" y="430.60" width="6.60" height="33.90" fill="#000"/>
<line x1="300.20" y1="430.60" x2="300.20" y2="429.40" stroke="#000" stroke-width="0.5"/>
<line x1="299.30" y1="429.40" x2="301.10" y2="429.40" stroke="#000" stroke-width="0.5"/>
<rect x="308.60" y="455.01" width="6.60" height="9.49" fill="#000"/>
<line x1="311.90" y1="455.01" x2="311.90" y2="454.71" stroke="#000" stroke-width="0.5"/>
<line x1="311.00" y1="454.71" x2="312.80" y2="454.71" stroke="#000" stroke-width="0.5"/>
<rect x="332.60" y="430.60" width="6.60" height="33.90" fill="#000"/>
<line x1="335.90" y1="430.60" x2="335.90" y2="428.60" stroke="#000" stroke-width="0.5"/>
<line x1="335.00" y1="428.60" x2="336.80" y2="428.60" stroke="#000" stroke-width="0.5"/>
<rect x="344.00" y="440.77" width="6.60" height="23.73" fill="#000"/>
<line x1="347.30" y1="440.77" x2="347.30" y2="439.17" stroke="#000" stroke-width="0.5"/>
<line x1="346.40" y1="439.17" x2="348.20" y2="439.17" stroke="#000" stroke-width="0.5"/>
<rect x="297.20" y="408.30" width="18.60" height="9.90" fill="#fff" stroke="#999" stroke-width="0.8"/>
<text x="306.50" y="415.50" font-size="5.9" text-anchor="middle" fill="#222">SIX5</text>
<rect x="329.00" y="408.30" width="23.00" height="9.90" fill="#fff" stroke="#999" stroke-width="0.8"/>
<text x="340.50" y="415.50" font-size="5.9" text-anchor="middle" fill="#222">GATA1</text>
<text x="312.00" y="455.90" font-size="8.6" text-anchor="middle" font-weight="bold" fill="#111">**</text>
<text x="347.40" y="438.90" font-size="8.6" text-anchor="middle" font-weight="bold" fill="#111">*</text>
<text x="300.90" y="467.10" font-size="4.8" text-anchor="end" fill="#111" transform="rotate(-90 300.90 467.10)">siCTR</text>
<text x="312.60" y="467.10" font-size="4.8" text-anchor="end" fill="#111" transform="rotate(-90 312.60 467.10)">siSIX5</text>
<text x="336.60" y="467.10" font-size="4.8" text-anchor="end" fill="#111" transform="rotate(-90 336.60 467.10)">siCTR</text>
<text x="348.00" y="467.10" font-size="4.8" text-anchor="end" fill="#111" transform="rotate(-90 348.00 467.10)">siSIX5</text>
<text x="325.50" y="493.40" font-size="5.0" text-anchor="middle" font-weight="bold" fill="#111" stroke="#111" stroke-width="0.3">ELF-153</text>
<line x1="380.20" y1="413.80" x2="443.00" y2="413.80" stroke="#aaa" stroke-width="0.8"/>
<line x1="443.00" y1="413.80" x2="443.00" y2="464.60" stroke="#aaa" stroke-width="0.8"/>
<line x1="380.20" y1="430.70" x2="443.00" y2="430.70" stroke="#aaa" stroke-width="1.0"/>
<line x1="380.20" y1="447.65" x2="443.00" y2="447.65" stroke="#aaa" stroke-width="1.0"/>
<line x1="380.20" y1="464.60" x2="443.00" y2="464.60" stroke="#aaa" stroke-width="1.0"/>
<line x1="380.20" y1="413.80" x2="380.20" y2="464.60" stroke="#999" stroke-width="0.9"/>
<text x="376.80" y="415.00" font-size="3.5" text-anchor="end" font-weight="bold" fill="#112">1.5</text>
<line x1="379.00" y1="413.75" x2="380.20" y2="413.75" stroke="#aaa" stroke-width="0.6"/>
<text x="376.80" y="431.95" font-size="3.5" text-anchor="end" font-weight="bold" fill="#112">1.0</text>
<line x1="379.00" y1="430.70" x2="380.20" y2="430.70" stroke="#aaa" stroke-width="0.6"/>
<text x="376.80" y="448.90" font-size="3.5" text-anchor="end" font-weight="bold" fill="#112">0.5</text>
<line x1="379.00" y1="447.65" x2="380.20" y2="447.65" stroke="#aaa" stroke-width="0.6"/>
<text x="376.80" y="465.85" font-size="3.5" text-anchor="end" font-weight="bold" fill="#112">0</text>
<line x1="379.00" y1="464.60" x2="380.20" y2="464.60" stroke="#aaa" stroke-width="0.6"/>
<text x="366.70" y="438.00" font-size="4.0" text-anchor="middle" font-weight="bold" fill="#000" transform="rotate(-90 366.70 438.00)">fold expression</text>
<rect x="385.10" y="430.70" width="6.60" height="33.90" fill="#000"/>
<line x1="388.40" y1="430.70" x2="388.40" y2="428.90" stroke="#000" stroke-width="0.5"/>
<line x1="387.50" y1="428.90" x2="389.30" y2="428.90" stroke="#000" stroke-width="0.5"/>
<rect x="397.00" y="453.41" width="6.60" height="11.19" fill="#000"/>
<line x1="400.30" y1="453.41" x2="400.30" y2="453.11" stroke="#000" stroke-width="0.5"/>
<line x1="399.40" y1="453.11" x2="401.20" y2="453.11" stroke="#000" stroke-width="0.5"/>
<rect x="421.00" y="430.70" width="6.60" height="33.90" fill="#000"/>
<line x1="424.30" y1="430.70" x2="424.30" y2="429.50" stroke="#000" stroke-width="0.5"/>
<line x1="423.40" y1="429.50" x2="425.20" y2="429.50" stroke="#000" stroke-width="0.5"/>
<rect x="432.60" y="427.31" width="6.60" height="37.29" fill="#000"/>
<line x1="435.90" y1="427.31" x2="435.90" y2="425.91" stroke="#000" stroke-width="0.5"/>
<line x1="435.00" y1="425.91" x2="436.80" y2="425.91" stroke="#000" stroke-width="0.5"/>
<rect x="385.80" y="408.80" width="18.60" height="9.90" fill="#fff" stroke="#999" stroke-width="0.8"/>
<text x="395.10" y="416.00" font-size="5.9" text-anchor="middle" fill="#222">SIX5</text>
<rect x="417.00" y="408.80" width="23.40" height="9.90" fill="#fff" stroke="#999" stroke-width="0.8"/>
<text x="428.70" y="416.00" font-size="5.9" text-anchor="middle" fill="#222">GATA2</text>
<text x="400.40" y="454.90" font-size="8.6" text-anchor="middle" font-weight="bold" fill="#111">**</text>
<text x="436.00" y="421.80" font-size="4.6" text-anchor="middle" font-weight="bold" fill="#111" stroke="#111" stroke-width="0.2">n.s.</text>
<text x="389.10" y="467.20" font-size="4.8" text-anchor="end" fill="#111" transform="rotate(-90 389.10 467.20)">siCTR</text>
<text x="401.00" y="467.20" font-size="4.8" text-anchor="end" fill="#111" transform="rotate(-90 401.00 467.20)">siSIX5</text>
<text x="425.00" y="467.20" font-size="4.8" text-anchor="end" fill="#111" transform="rotate(-90 425.00 467.20)">siCTR</text>
<text x="436.60" y="467.20" font-size="4.8" text-anchor="end" fill="#111" transform="rotate(-90 436.60 467.20)">siSIX5</text>
<text x="413.70" y="493.40" font-size="5.0" text-anchor="middle" font-weight="bold" fill="#111" stroke="#111" stroke-width="0.3">ELF-153</text>
<line x1="473.10" y1="413.70" x2="536.40" y2="413.70" stroke="#aaa" stroke-width="0.8"/>
<line x1="536.40" y1="413.70" x2="536.40" y2="464.60" stroke="#aaa" stroke-width="0.8"/>
<line x1="473.10" y1="426.50" x2="536.40" y2="426.50" stroke="#aaa" stroke-width="1.0"/>
<line x1="473.10" y1="439.20" x2="536.40" y2="439.20" stroke="#aaa" stroke-width="1.0"/>
<line x1="473.10" y1="451.90" x2="536.40" y2="451.90" stroke="#aaa" stroke-width="1.0"/>
<line x1="473.10" y1="464.60" x2="536.40" y2="464.60" stroke="#aaa" stroke-width="1.0"/>
<line x1="473.10" y1="413.70" x2="473.10" y2="464.60" stroke="#999" stroke-width="0.9"/>
<text x="469.70" y="415.05" font-size="3.5" text-anchor="end" font-weight="bold" fill="#112">2.0</text>
<line x1="471.90" y1="413.80" x2="473.10" y2="413.80" stroke="#aaa" stroke-width="0.6"/>
<text x="469.70" y="427.75" font-size="3.5" text-anchor="end" font-weight="bold" fill="#112">1.5</text>
<line x1="471.90" y1="426.50" x2="473.10" y2="426.50" stroke="#aaa" stroke-width="0.6"/>
<text x="469.70" y="440.45" font-size="3.5" text-anchor="end" font-weight="bold" fill="#112">1.0</text>
<line x1="471.90" y1="439.20" x2="473.10" y2="439.20" stroke="#aaa" stroke-width="0.6"/>
<text x="469.70" y="453.15" font-size="3.5" text-anchor="end" font-weight="bold" fill="#112">0.5</text>
<line x1="471.90" y1="451.90" x2="473.10" y2="451.90" stroke="#aaa" stroke-width="0.6"/>
<text x="469.70" y="465.85" font-size="3.5" text-anchor="end" font-weight="bold" fill="#112">0</text>
<line x1="471.90" y1="464.60" x2="473.10" y2="464.60" stroke="#aaa" stroke-width="0.6"/>
<text x="459.60" y="437.95" font-size="4.0" text-anchor="middle" font-weight="bold" fill="#000" transform="rotate(-90 459.60 437.95)">fold expression</text>
<rect x="477.90" y="439.20" width="6.60" height="25.40" fill="#000"/>
<line x1="481.20" y1="439.20" x2="481.20" y2="437.60" stroke="#000" stroke-width="0.5"/>
<line x1="480.30" y1="437.60" x2="482.10" y2="437.60" stroke="#000" stroke-width="0.5"/>
<rect x="489.60" y="456.22" width="6.60" height="8.38" fill="#000"/>
<line x1="492.90" y1="456.22" x2="492.90" y2="455.92" stroke="#000" stroke-width="0.5"/>
<line x1="492.00" y1="455.92" x2="493.80" y2="455.92" stroke="#000" stroke-width="0.5"/>
<rect x="513.20" y="439.20" width="6.60" height="25.40" fill="#000"/>
<line x1="516.50" y1="439.20" x2="516.50" y2="437.60" stroke="#000" stroke-width="0.5"/>
<line x1="515.60" y1="437.60" x2="517.40" y2="437.60" stroke="#000" stroke-width="0.5"/>
<rect x="525.20" y="422.69" width="6.60" height="41.91" fill="#000"/>
<line x1="528.50" y1="422.69" x2="528.50" y2="418.09" stroke="#000" stroke-width="0.5"/>
<line x1="527.60" y1="418.09" x2="529.40" y2="418.09" stroke="#000" stroke-width="0.5"/>
<rect x="478.20" y="408.70" width="18.10" height="9.90" fill="#fff" stroke="#999" stroke-width="0.8"/>
<text x="487.25" y="415.90" font-size="5.9" text-anchor="middle" fill="#222">SIX5</text>
<rect x="513.80" y="408.70" width="17.50" height="9.90" fill="#fff" stroke="#999" stroke-width="0.8"/>
<text x="522.55" y="415.90" font-size="5.9" text-anchor="middle" fill="#222">HBB</text>
<text x="493.00" y="453.50" font-size="8.6" text-anchor="middle" font-weight="bold" fill="#111">**</text>
<text x="522.40" y="425.80" font-size="8.6" text-anchor="middle" font-weight="bold" fill="#111">*</text>
<text x="481.90" y="467.20" font-size="4.8" text-anchor="end" fill="#111" transform="rotate(-90 481.90 467.20)">siCTR</text>
<text x="493.60" y="467.20" font-size="4.8" text-anchor="end" fill="#111" transform="rotate(-90 493.60 467.20)">siSIX5</text>
<text x="517.20" y="467.20" font-size="4.8" text-anchor="end" fill="#111" transform="rotate(-90 517.20 467.20)">siCTR</text>
<text x="529.20" y="467.20" font-size="4.8" text-anchor="end" fill="#111" transform="rotate(-90 529.20 467.20)">siSIX5</text>
<text x="506.30" y="493.40" font-size="5.0" text-anchor="middle" font-weight="bold" fill="#111" stroke="#111" stroke-width="0.3">ELF-153</text>
</svg>
</body></html>
